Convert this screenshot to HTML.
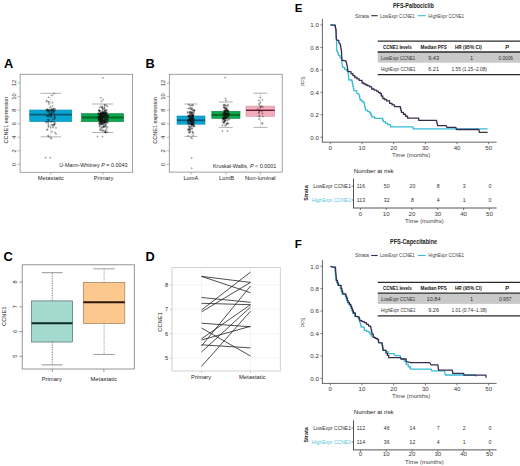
<!DOCTYPE html>
<html><head><meta charset="utf-8"><style>
html,body{margin:0;padding:0;background:#fff;}
svg{display:block;}
text{font-family:"Liberation Sans", sans-serif;}
</style></head><body>
<svg width="520" height="466" viewBox="0 0 520 466">
<rect x="0" y="0" width="520" height="466" fill="#fff"/>
<text x="3.90" y="67.80" font-size="12.8" fill="#000" text-anchor="start" font-weight="bold" font-style="normal" >A</text>
<text x="145.60" y="67.60" font-size="12.8" fill="#000" text-anchor="start" font-weight="bold" font-style="normal" >B</text>
<text x="3.40" y="260.70" font-size="12.8" fill="#000" text-anchor="start" font-weight="bold" font-style="normal" >C</text>
<text x="145.60" y="260.90" font-size="12.8" fill="#000" text-anchor="start" font-weight="bold" font-style="normal" >D</text>
<text x="294.80" y="11.70" font-size="11.6" fill="#000" text-anchor="start" font-weight="bold" font-style="normal" >E</text>
<text x="294.80" y="247.50" font-size="11.6" fill="#000" text-anchor="start" font-weight="bold" font-style="normal" >F</text>
<rect x="20.10" y="74.30" width="112.50" height="98.00" fill="none" stroke="#8a8a8a" stroke-width="0.8" />
<line x1="17.50" y1="164.40" x2="20.10" y2="164.40" stroke="#8a8a8a" stroke-width="0.6" />
<text x="16.00" y="164.40" font-size="5.6" fill="#262626" text-anchor="middle" font-weight="normal" font-style="normal" transform="rotate(-90 16.00 164.40)" >0</text>
<line x1="17.50" y1="150.84" x2="20.10" y2="150.84" stroke="#8a8a8a" stroke-width="0.6" />
<text x="16.00" y="150.84" font-size="5.6" fill="#262626" text-anchor="middle" font-weight="normal" font-style="normal" transform="rotate(-90 16.00 150.84)" >2</text>
<line x1="17.50" y1="137.28" x2="20.10" y2="137.28" stroke="#8a8a8a" stroke-width="0.6" />
<text x="16.00" y="137.28" font-size="5.6" fill="#262626" text-anchor="middle" font-weight="normal" font-style="normal" transform="rotate(-90 16.00 137.28)" >4</text>
<line x1="17.50" y1="123.72" x2="20.10" y2="123.72" stroke="#8a8a8a" stroke-width="0.6" />
<text x="16.00" y="123.72" font-size="5.6" fill="#262626" text-anchor="middle" font-weight="normal" font-style="normal" transform="rotate(-90 16.00 123.72)" >6</text>
<line x1="17.50" y1="110.16" x2="20.10" y2="110.16" stroke="#8a8a8a" stroke-width="0.6" />
<text x="16.00" y="110.16" font-size="5.6" fill="#262626" text-anchor="middle" font-weight="normal" font-style="normal" transform="rotate(-90 16.00 110.16)" >8</text>
<line x1="17.50" y1="96.60" x2="20.10" y2="96.60" stroke="#8a8a8a" stroke-width="0.6" />
<text x="16.00" y="96.60" font-size="5.6" fill="#262626" text-anchor="middle" font-weight="normal" font-style="normal" transform="rotate(-90 16.00 96.60)" >10</text>
<line x1="17.50" y1="83.04" x2="20.10" y2="83.04" stroke="#8a8a8a" stroke-width="0.6" />
<text x="16.00" y="83.04" font-size="5.6" fill="#262626" text-anchor="middle" font-weight="normal" font-style="normal" transform="rotate(-90 16.00 83.04)" >12</text>
<line x1="50.70" y1="172.30" x2="50.70" y2="174.70" stroke="#8a8a8a" stroke-width="0.6" />
<line x1="103.00" y1="172.30" x2="103.00" y2="174.70" stroke="#8a8a8a" stroke-width="0.6" />
<text x="7.50" y="120.00" font-size="5.5" fill="#262626" text-anchor="middle" font-weight="normal" font-style="normal" transform="rotate(-90 7.50 120.00)" >CCNE1 expression</text>
<line x1="50.75" y1="110.00" x2="50.75" y2="93.30" stroke="#9a9a9a" stroke-width="0.6" stroke-dasharray="1 1"/>
<line x1="50.75" y1="121.60" x2="50.75" y2="136.80" stroke="#9a9a9a" stroke-width="0.6" stroke-dasharray="1 1"/>
<line x1="40.50" y1="93.30" x2="61.00" y2="93.30" stroke="#a0a0a0" stroke-width="0.8" />
<line x1="40.50" y1="136.80" x2="61.00" y2="136.80" stroke="#a0a0a0" stroke-width="0.8" />
<rect x="29.70" y="110.00" width="42.10" height="11.60" fill="#0aa6d3" stroke="#0b88b0" stroke-width="0.6" />
<line x1="29.70" y1="114.70" x2="71.80" y2="114.70" stroke="#075a72" stroke-width="1.8" />
<line x1="102.65" y1="113.60" x2="102.65" y2="104.00" stroke="#9a9a9a" stroke-width="0.6" stroke-dasharray="1 1"/>
<line x1="102.65" y1="121.70" x2="102.65" y2="132.50" stroke="#9a9a9a" stroke-width="0.6" stroke-dasharray="1 1"/>
<line x1="92.00" y1="104.00" x2="113.30" y2="104.00" stroke="#a0a0a0" stroke-width="0.8" />
<line x1="92.00" y1="132.50" x2="113.30" y2="132.50" stroke="#a0a0a0" stroke-width="0.8" />
<rect x="81.60" y="113.60" width="42.00" height="8.10" fill="#10a652" stroke="#0b8a3e" stroke-width="0.6" />
<line x1="81.60" y1="117.50" x2="123.60" y2="117.50" stroke="#046b22" stroke-width="1.8" />
<circle cx="54.44" cy="117.78" r="0.6" fill="none" stroke="#111" stroke-width="0.4" opacity="0.78"/>
<circle cx="47.86" cy="111.94" r="0.6" fill="none" stroke="#111" stroke-width="0.4" opacity="0.78"/>
<circle cx="47.42" cy="110.97" r="0.6" fill="none" stroke="#111" stroke-width="0.4" opacity="0.78"/>
<circle cx="52.04" cy="131.60" r="0.6" fill="none" stroke="#111" stroke-width="0.4" opacity="0.78"/>
<circle cx="52.16" cy="95.27" r="0.6" fill="none" stroke="#111" stroke-width="0.4" opacity="0.78"/>
<circle cx="50.90" cy="121.70" r="0.6" fill="none" stroke="#111" stroke-width="0.4" opacity="0.78"/>
<circle cx="46.57" cy="122.58" r="0.6" fill="none" stroke="#111" stroke-width="0.4" opacity="0.78"/>
<circle cx="50.88" cy="115.80" r="0.6" fill="none" stroke="#111" stroke-width="0.4" opacity="0.78"/>
<circle cx="50.36" cy="117.06" r="0.6" fill="none" stroke="#111" stroke-width="0.4" opacity="0.78"/>
<circle cx="54.07" cy="93.55" r="0.6" fill="none" stroke="#111" stroke-width="0.4" opacity="0.78"/>
<circle cx="49.22" cy="120.09" r="0.6" fill="none" stroke="#111" stroke-width="0.4" opacity="0.78"/>
<circle cx="53.63" cy="109.32" r="0.6" fill="none" stroke="#111" stroke-width="0.4" opacity="0.78"/>
<circle cx="46.87" cy="100.65" r="0.6" fill="none" stroke="#111" stroke-width="0.4" opacity="0.78"/>
<circle cx="54.78" cy="108.81" r="0.6" fill="none" stroke="#111" stroke-width="0.4" opacity="0.78"/>
<circle cx="52.91" cy="127.68" r="0.6" fill="none" stroke="#111" stroke-width="0.4" opacity="0.78"/>
<circle cx="55.39" cy="123.37" r="0.6" fill="none" stroke="#111" stroke-width="0.4" opacity="0.78"/>
<circle cx="47.91" cy="122.62" r="0.6" fill="none" stroke="#111" stroke-width="0.4" opacity="0.78"/>
<circle cx="51.22" cy="109.96" r="0.6" fill="none" stroke="#111" stroke-width="0.4" opacity="0.78"/>
<circle cx="47.16" cy="129.79" r="0.6" fill="none" stroke="#111" stroke-width="0.4" opacity="0.78"/>
<circle cx="48.42" cy="124.37" r="0.6" fill="none" stroke="#111" stroke-width="0.4" opacity="0.78"/>
<circle cx="48.61" cy="102.24" r="0.6" fill="none" stroke="#111" stroke-width="0.4" opacity="0.78"/>
<circle cx="54.10" cy="124.05" r="0.6" fill="none" stroke="#111" stroke-width="0.4" opacity="0.78"/>
<circle cx="48.44" cy="136.48" r="0.6" fill="none" stroke="#111" stroke-width="0.4" opacity="0.78"/>
<circle cx="49.26" cy="109.66" r="0.6" fill="none" stroke="#111" stroke-width="0.4" opacity="0.78"/>
<circle cx="48.28" cy="126.83" r="0.6" fill="none" stroke="#111" stroke-width="0.4" opacity="0.78"/>
<circle cx="54.78" cy="118.53" r="0.6" fill="none" stroke="#111" stroke-width="0.4" opacity="0.78"/>
<circle cx="48.35" cy="110.63" r="0.6" fill="none" stroke="#111" stroke-width="0.4" opacity="0.78"/>
<circle cx="48.80" cy="101.74" r="0.6" fill="none" stroke="#111" stroke-width="0.4" opacity="0.78"/>
<circle cx="47.37" cy="110.28" r="0.6" fill="none" stroke="#111" stroke-width="0.4" opacity="0.78"/>
<circle cx="50.14" cy="107.15" r="0.6" fill="none" stroke="#111" stroke-width="0.4" opacity="0.78"/>
<circle cx="48.12" cy="135.69" r="0.6" fill="none" stroke="#111" stroke-width="0.4" opacity="0.78"/>
<circle cx="51.48" cy="115.93" r="0.6" fill="none" stroke="#111" stroke-width="0.4" opacity="0.78"/>
<circle cx="47.36" cy="129.54" r="0.6" fill="none" stroke="#111" stroke-width="0.4" opacity="0.78"/>
<circle cx="51.61" cy="110.69" r="0.6" fill="none" stroke="#111" stroke-width="0.4" opacity="0.78"/>
<circle cx="46.87" cy="109.94" r="0.6" fill="none" stroke="#111" stroke-width="0.4" opacity="0.78"/>
<circle cx="47.99" cy="121.28" r="0.6" fill="none" stroke="#111" stroke-width="0.4" opacity="0.78"/>
<circle cx="49.22" cy="114.08" r="0.6" fill="none" stroke="#111" stroke-width="0.4" opacity="0.78"/>
<circle cx="52.49" cy="106.16" r="0.6" fill="none" stroke="#111" stroke-width="0.4" opacity="0.78"/>
<circle cx="45.49" cy="121.72" r="0.6" fill="none" stroke="#111" stroke-width="0.4" opacity="0.78"/>
<circle cx="46.12" cy="110.17" r="0.6" fill="none" stroke="#111" stroke-width="0.4" opacity="0.78"/>
<circle cx="48.67" cy="116.59" r="0.6" fill="none" stroke="#111" stroke-width="0.4" opacity="0.78"/>
<circle cx="53.25" cy="126.20" r="0.6" fill="none" stroke="#111" stroke-width="0.4" opacity="0.78"/>
<circle cx="53.87" cy="111.39" r="0.6" fill="none" stroke="#111" stroke-width="0.4" opacity="0.78"/>
<circle cx="54.96" cy="116.90" r="0.6" fill="none" stroke="#111" stroke-width="0.4" opacity="0.78"/>
<circle cx="54.08" cy="116.17" r="0.6" fill="none" stroke="#111" stroke-width="0.4" opacity="0.78"/>
<circle cx="51.48" cy="112.90" r="0.6" fill="none" stroke="#111" stroke-width="0.4" opacity="0.78"/>
<circle cx="55.96" cy="127.87" r="0.6" fill="none" stroke="#111" stroke-width="0.4" opacity="0.78"/>
<circle cx="52.89" cy="112.87" r="0.6" fill="none" stroke="#111" stroke-width="0.4" opacity="0.78"/>
<circle cx="46.50" cy="115.83" r="0.6" fill="none" stroke="#111" stroke-width="0.4" opacity="0.78"/>
<circle cx="50.55" cy="127.16" r="0.6" fill="none" stroke="#111" stroke-width="0.4" opacity="0.78"/>
<circle cx="51.94" cy="112.36" r="0.6" fill="none" stroke="#111" stroke-width="0.4" opacity="0.78"/>
<circle cx="48.76" cy="121.62" r="0.6" fill="none" stroke="#111" stroke-width="0.4" opacity="0.78"/>
<circle cx="54.63" cy="122.13" r="0.6" fill="none" stroke="#111" stroke-width="0.4" opacity="0.78"/>
<circle cx="49.02" cy="115.46" r="0.6" fill="none" stroke="#111" stroke-width="0.4" opacity="0.78"/>
<circle cx="54.01" cy="124.50" r="0.6" fill="none" stroke="#111" stroke-width="0.4" opacity="0.78"/>
<circle cx="51.38" cy="109.41" r="0.6" fill="none" stroke="#111" stroke-width="0.4" opacity="0.78"/>
<circle cx="54.25" cy="125.42" r="0.6" fill="none" stroke="#111" stroke-width="0.4" opacity="0.78"/>
<circle cx="49.03" cy="110.23" r="0.6" fill="none" stroke="#111" stroke-width="0.4" opacity="0.78"/>
<circle cx="48.25" cy="119.77" r="0.6" fill="none" stroke="#111" stroke-width="0.4" opacity="0.78"/>
<circle cx="48.77" cy="112.38" r="0.6" fill="none" stroke="#111" stroke-width="0.4" opacity="0.78"/>
<circle cx="47.78" cy="108.96" r="0.6" fill="none" stroke="#111" stroke-width="0.4" opacity="0.78"/>
<circle cx="52.64" cy="110.00" r="0.6" fill="none" stroke="#111" stroke-width="0.4" opacity="0.78"/>
<circle cx="47.18" cy="116.16" r="0.6" fill="none" stroke="#111" stroke-width="0.4" opacity="0.78"/>
<circle cx="53.27" cy="121.53" r="0.6" fill="none" stroke="#111" stroke-width="0.4" opacity="0.78"/>
<circle cx="51.83" cy="121.73" r="0.6" fill="none" stroke="#111" stroke-width="0.4" opacity="0.78"/>
<circle cx="54.09" cy="111.62" r="0.6" fill="none" stroke="#111" stroke-width="0.4" opacity="0.78"/>
<circle cx="50.51" cy="113.76" r="0.6" fill="none" stroke="#111" stroke-width="0.4" opacity="0.78"/>
<circle cx="52.31" cy="125.07" r="0.6" fill="none" stroke="#111" stroke-width="0.4" opacity="0.78"/>
<circle cx="52.49" cy="119.28" r="0.6" fill="none" stroke="#111" stroke-width="0.4" opacity="0.78"/>
<circle cx="49.61" cy="111.15" r="0.6" fill="none" stroke="#111" stroke-width="0.4" opacity="0.78"/>
<circle cx="55.01" cy="110.00" r="0.6" fill="none" stroke="#111" stroke-width="0.4" opacity="0.78"/>
<circle cx="52.06" cy="124.81" r="0.6" fill="none" stroke="#111" stroke-width="0.4" opacity="0.78"/>
<circle cx="54.60" cy="117.72" r="0.6" fill="none" stroke="#111" stroke-width="0.4" opacity="0.78"/>
<circle cx="51.86" cy="108.87" r="0.6" fill="none" stroke="#111" stroke-width="0.4" opacity="0.78"/>
<circle cx="52.11" cy="110.85" r="0.6" fill="none" stroke="#111" stroke-width="0.4" opacity="0.78"/>
<circle cx="56.03" cy="133.93" r="0.6" fill="none" stroke="#111" stroke-width="0.4" opacity="0.78"/>
<circle cx="48.76" cy="110.98" r="0.6" fill="none" stroke="#111" stroke-width="0.4" opacity="0.78"/>
<circle cx="47.07" cy="109.58" r="0.6" fill="none" stroke="#111" stroke-width="0.4" opacity="0.78"/>
<circle cx="50.61" cy="111.09" r="0.6" fill="none" stroke="#111" stroke-width="0.4" opacity="0.78"/>
<circle cx="52.95" cy="110.00" r="0.6" fill="none" stroke="#111" stroke-width="0.4" opacity="0.78"/>
<circle cx="48.04" cy="116.18" r="0.6" fill="none" stroke="#111" stroke-width="0.4" opacity="0.78"/>
<circle cx="54.03" cy="111.30" r="0.6" fill="none" stroke="#111" stroke-width="0.4" opacity="0.78"/>
<circle cx="53.89" cy="108.60" r="0.6" fill="none" stroke="#111" stroke-width="0.4" opacity="0.78"/>
<circle cx="48.60" cy="125.89" r="0.6" fill="none" stroke="#111" stroke-width="0.4" opacity="0.78"/>
<circle cx="53.87" cy="112.24" r="0.6" fill="none" stroke="#111" stroke-width="0.4" opacity="0.78"/>
<circle cx="54.41" cy="119.03" r="0.6" fill="none" stroke="#111" stroke-width="0.4" opacity="0.78"/>
<circle cx="54.95" cy="132.63" r="0.6" fill="none" stroke="#111" stroke-width="0.4" opacity="0.78"/>
<circle cx="51.02" cy="113.76" r="0.6" fill="none" stroke="#111" stroke-width="0.4" opacity="0.78"/>
<circle cx="54.94" cy="114.57" r="0.6" fill="none" stroke="#111" stroke-width="0.4" opacity="0.78"/>
<circle cx="51.26" cy="116.09" r="0.6" fill="none" stroke="#111" stroke-width="0.4" opacity="0.78"/>
<circle cx="51.03" cy="114.39" r="0.6" fill="none" stroke="#111" stroke-width="0.4" opacity="0.78"/>
<circle cx="48.66" cy="97.36" r="0.6" fill="none" stroke="#111" stroke-width="0.4" opacity="0.78"/>
<circle cx="54.10" cy="124.54" r="0.6" fill="none" stroke="#111" stroke-width="0.4" opacity="0.78"/>
<circle cx="47.77" cy="119.48" r="0.6" fill="none" stroke="#111" stroke-width="0.4" opacity="0.78"/>
<circle cx="52.61" cy="109.99" r="0.6" fill="none" stroke="#111" stroke-width="0.4" opacity="0.78"/>
<circle cx="45.70" cy="157.80" r="0.6" fill="none" stroke="#111" stroke-width="0.4" opacity="0.78"/>
<circle cx="50.20" cy="157.80" r="0.6" fill="none" stroke="#111" stroke-width="0.4" opacity="0.78"/>
<circle cx="50.50" cy="137.80" r="0.6" fill="none" stroke="#111" stroke-width="0.4" opacity="0.78"/>
<circle cx="51.50" cy="138.60" r="0.6" fill="none" stroke="#111" stroke-width="0.4" opacity="0.78"/>
<circle cx="46.50" cy="101.50" r="0.6" fill="none" stroke="#111" stroke-width="0.4" opacity="0.78"/>
<circle cx="52.50" cy="102.50" r="0.6" fill="none" stroke="#111" stroke-width="0.4" opacity="0.78"/>
<circle cx="49.00" cy="104.00" r="0.6" fill="none" stroke="#111" stroke-width="0.4" opacity="0.78"/>
<circle cx="104.53" cy="122.26" r="0.6" fill="none" stroke="#111" stroke-width="0.4" opacity="0.78"/>
<circle cx="99.05" cy="119.10" r="0.6" fill="none" stroke="#111" stroke-width="0.4" opacity="0.78"/>
<circle cx="101.10" cy="124.51" r="0.6" fill="none" stroke="#111" stroke-width="0.4" opacity="0.78"/>
<circle cx="101.93" cy="115.71" r="0.6" fill="none" stroke="#111" stroke-width="0.4" opacity="0.78"/>
<circle cx="100.18" cy="116.85" r="0.6" fill="none" stroke="#111" stroke-width="0.4" opacity="0.78"/>
<circle cx="106.32" cy="115.33" r="0.6" fill="none" stroke="#111" stroke-width="0.4" opacity="0.78"/>
<circle cx="105.49" cy="113.15" r="0.6" fill="none" stroke="#111" stroke-width="0.4" opacity="0.78"/>
<circle cx="100.99" cy="112.87" r="0.6" fill="none" stroke="#111" stroke-width="0.4" opacity="0.78"/>
<circle cx="105.84" cy="132.46" r="0.6" fill="none" stroke="#111" stroke-width="0.4" opacity="0.78"/>
<circle cx="101.28" cy="127.40" r="0.6" fill="none" stroke="#111" stroke-width="0.4" opacity="0.78"/>
<circle cx="105.11" cy="112.31" r="0.6" fill="none" stroke="#111" stroke-width="0.4" opacity="0.78"/>
<circle cx="99.33" cy="118.82" r="0.6" fill="none" stroke="#111" stroke-width="0.4" opacity="0.78"/>
<circle cx="106.39" cy="113.76" r="0.6" fill="none" stroke="#111" stroke-width="0.4" opacity="0.78"/>
<circle cx="103.03" cy="114.39" r="0.6" fill="none" stroke="#111" stroke-width="0.4" opacity="0.78"/>
<circle cx="100.29" cy="121.75" r="0.6" fill="none" stroke="#111" stroke-width="0.4" opacity="0.78"/>
<circle cx="103.51" cy="115.39" r="0.6" fill="none" stroke="#111" stroke-width="0.4" opacity="0.78"/>
<circle cx="106.80" cy="122.15" r="0.6" fill="none" stroke="#111" stroke-width="0.4" opacity="0.78"/>
<circle cx="98.19" cy="113.37" r="0.6" fill="none" stroke="#111" stroke-width="0.4" opacity="0.78"/>
<circle cx="101.47" cy="118.49" r="0.6" fill="none" stroke="#111" stroke-width="0.4" opacity="0.78"/>
<circle cx="103.68" cy="115.74" r="0.6" fill="none" stroke="#111" stroke-width="0.4" opacity="0.78"/>
<circle cx="100.21" cy="114.04" r="0.6" fill="none" stroke="#111" stroke-width="0.4" opacity="0.78"/>
<circle cx="100.73" cy="115.84" r="0.6" fill="none" stroke="#111" stroke-width="0.4" opacity="0.78"/>
<circle cx="107.05" cy="117.44" r="0.6" fill="none" stroke="#111" stroke-width="0.4" opacity="0.78"/>
<circle cx="104.10" cy="113.97" r="0.6" fill="none" stroke="#111" stroke-width="0.4" opacity="0.78"/>
<circle cx="107.98" cy="115.43" r="0.6" fill="none" stroke="#111" stroke-width="0.4" opacity="0.78"/>
<circle cx="105.49" cy="117.87" r="0.6" fill="none" stroke="#111" stroke-width="0.4" opacity="0.78"/>
<circle cx="107.23" cy="112.41" r="0.6" fill="none" stroke="#111" stroke-width="0.4" opacity="0.78"/>
<circle cx="105.26" cy="114.35" r="0.6" fill="none" stroke="#111" stroke-width="0.4" opacity="0.78"/>
<circle cx="101.60" cy="117.21" r="0.6" fill="none" stroke="#111" stroke-width="0.4" opacity="0.78"/>
<circle cx="104.32" cy="123.07" r="0.6" fill="none" stroke="#111" stroke-width="0.4" opacity="0.78"/>
<circle cx="104.37" cy="131.34" r="0.6" fill="none" stroke="#111" stroke-width="0.4" opacity="0.78"/>
<circle cx="103.28" cy="115.16" r="0.6" fill="none" stroke="#111" stroke-width="0.4" opacity="0.78"/>
<circle cx="105.04" cy="110.29" r="0.6" fill="none" stroke="#111" stroke-width="0.4" opacity="0.78"/>
<circle cx="104.16" cy="113.40" r="0.6" fill="none" stroke="#111" stroke-width="0.4" opacity="0.78"/>
<circle cx="99.59" cy="120.01" r="0.6" fill="none" stroke="#111" stroke-width="0.4" opacity="0.78"/>
<circle cx="100.32" cy="121.29" r="0.6" fill="none" stroke="#111" stroke-width="0.4" opacity="0.78"/>
<circle cx="107.33" cy="115.42" r="0.6" fill="none" stroke="#111" stroke-width="0.4" opacity="0.78"/>
<circle cx="105.19" cy="110.34" r="0.6" fill="none" stroke="#111" stroke-width="0.4" opacity="0.78"/>
<circle cx="98.05" cy="114.39" r="0.6" fill="none" stroke="#111" stroke-width="0.4" opacity="0.78"/>
<circle cx="100.04" cy="124.10" r="0.6" fill="none" stroke="#111" stroke-width="0.4" opacity="0.78"/>
<circle cx="106.83" cy="117.26" r="0.6" fill="none" stroke="#111" stroke-width="0.4" opacity="0.78"/>
<circle cx="101.92" cy="115.05" r="0.6" fill="none" stroke="#111" stroke-width="0.4" opacity="0.78"/>
<circle cx="100.85" cy="115.20" r="0.6" fill="none" stroke="#111" stroke-width="0.4" opacity="0.78"/>
<circle cx="101.24" cy="121.64" r="0.6" fill="none" stroke="#111" stroke-width="0.4" opacity="0.78"/>
<circle cx="101.82" cy="127.85" r="0.6" fill="none" stroke="#111" stroke-width="0.4" opacity="0.78"/>
<circle cx="108.35" cy="117.29" r="0.6" fill="none" stroke="#111" stroke-width="0.4" opacity="0.78"/>
<circle cx="102.38" cy="130.56" r="0.6" fill="none" stroke="#111" stroke-width="0.4" opacity="0.78"/>
<circle cx="103.26" cy="113.12" r="0.6" fill="none" stroke="#111" stroke-width="0.4" opacity="0.78"/>
<circle cx="107.97" cy="115.58" r="0.6" fill="none" stroke="#111" stroke-width="0.4" opacity="0.78"/>
<circle cx="104.09" cy="117.03" r="0.6" fill="none" stroke="#111" stroke-width="0.4" opacity="0.78"/>
<circle cx="103.20" cy="121.73" r="0.6" fill="none" stroke="#111" stroke-width="0.4" opacity="0.78"/>
<circle cx="102.65" cy="118.89" r="0.6" fill="none" stroke="#111" stroke-width="0.4" opacity="0.78"/>
<circle cx="105.53" cy="115.78" r="0.6" fill="none" stroke="#111" stroke-width="0.4" opacity="0.78"/>
<circle cx="104.82" cy="105.07" r="0.6" fill="none" stroke="#111" stroke-width="0.4" opacity="0.78"/>
<circle cx="105.71" cy="130.31" r="0.6" fill="none" stroke="#111" stroke-width="0.4" opacity="0.78"/>
<circle cx="104.71" cy="120.56" r="0.6" fill="none" stroke="#111" stroke-width="0.4" opacity="0.78"/>
<circle cx="104.92" cy="114.90" r="0.6" fill="none" stroke="#111" stroke-width="0.4" opacity="0.78"/>
<circle cx="107.43" cy="132.07" r="0.6" fill="none" stroke="#111" stroke-width="0.4" opacity="0.78"/>
<circle cx="101.02" cy="121.74" r="0.6" fill="none" stroke="#111" stroke-width="0.4" opacity="0.78"/>
<circle cx="103.29" cy="117.08" r="0.6" fill="none" stroke="#111" stroke-width="0.4" opacity="0.78"/>
<circle cx="103.48" cy="126.64" r="0.6" fill="none" stroke="#111" stroke-width="0.4" opacity="0.78"/>
<circle cx="100.61" cy="119.69" r="0.6" fill="none" stroke="#111" stroke-width="0.4" opacity="0.78"/>
<circle cx="99.91" cy="114.06" r="0.6" fill="none" stroke="#111" stroke-width="0.4" opacity="0.78"/>
<circle cx="105.06" cy="110.51" r="0.6" fill="none" stroke="#111" stroke-width="0.4" opacity="0.78"/>
<circle cx="105.59" cy="120.62" r="0.6" fill="none" stroke="#111" stroke-width="0.4" opacity="0.78"/>
<circle cx="101.40" cy="113.44" r="0.6" fill="none" stroke="#111" stroke-width="0.4" opacity="0.78"/>
<circle cx="102.39" cy="113.72" r="0.6" fill="none" stroke="#111" stroke-width="0.4" opacity="0.78"/>
<circle cx="100.01" cy="129.97" r="0.6" fill="none" stroke="#111" stroke-width="0.4" opacity="0.78"/>
<circle cx="104.49" cy="115.51" r="0.6" fill="none" stroke="#111" stroke-width="0.4" opacity="0.78"/>
<circle cx="100.22" cy="113.38" r="0.6" fill="none" stroke="#111" stroke-width="0.4" opacity="0.78"/>
<circle cx="105.21" cy="122.70" r="0.6" fill="none" stroke="#111" stroke-width="0.4" opacity="0.78"/>
<circle cx="101.58" cy="121.10" r="0.6" fill="none" stroke="#111" stroke-width="0.4" opacity="0.78"/>
<circle cx="104.94" cy="121.21" r="0.6" fill="none" stroke="#111" stroke-width="0.4" opacity="0.78"/>
<circle cx="106.59" cy="105.35" r="0.6" fill="none" stroke="#111" stroke-width="0.4" opacity="0.78"/>
<circle cx="101.45" cy="112.92" r="0.6" fill="none" stroke="#111" stroke-width="0.4" opacity="0.78"/>
<circle cx="100.90" cy="106.28" r="0.6" fill="none" stroke="#111" stroke-width="0.4" opacity="0.78"/>
<circle cx="102.12" cy="120.17" r="0.6" fill="none" stroke="#111" stroke-width="0.4" opacity="0.78"/>
<circle cx="105.72" cy="125.13" r="0.6" fill="none" stroke="#111" stroke-width="0.4" opacity="0.78"/>
<circle cx="99.73" cy="111.17" r="0.6" fill="none" stroke="#111" stroke-width="0.4" opacity="0.78"/>
<circle cx="98.69" cy="113.00" r="0.6" fill="none" stroke="#111" stroke-width="0.4" opacity="0.78"/>
<circle cx="107.50" cy="115.17" r="0.6" fill="none" stroke="#111" stroke-width="0.4" opacity="0.78"/>
<circle cx="103.48" cy="113.39" r="0.6" fill="none" stroke="#111" stroke-width="0.4" opacity="0.78"/>
<circle cx="105.55" cy="121.77" r="0.6" fill="none" stroke="#111" stroke-width="0.4" opacity="0.78"/>
<circle cx="99.42" cy="126.04" r="0.6" fill="none" stroke="#111" stroke-width="0.4" opacity="0.78"/>
<circle cx="100.16" cy="116.49" r="0.6" fill="none" stroke="#111" stroke-width="0.4" opacity="0.78"/>
<circle cx="102.13" cy="114.36" r="0.6" fill="none" stroke="#111" stroke-width="0.4" opacity="0.78"/>
<circle cx="102.94" cy="109.92" r="0.6" fill="none" stroke="#111" stroke-width="0.4" opacity="0.78"/>
<circle cx="106.55" cy="114.60" r="0.6" fill="none" stroke="#111" stroke-width="0.4" opacity="0.78"/>
<circle cx="106.65" cy="109.99" r="0.6" fill="none" stroke="#111" stroke-width="0.4" opacity="0.78"/>
<circle cx="107.39" cy="106.40" r="0.6" fill="none" stroke="#111" stroke-width="0.4" opacity="0.78"/>
<circle cx="105.60" cy="114.59" r="0.6" fill="none" stroke="#111" stroke-width="0.4" opacity="0.78"/>
<circle cx="105.69" cy="121.09" r="0.6" fill="none" stroke="#111" stroke-width="0.4" opacity="0.78"/>
<circle cx="100.45" cy="121.00" r="0.6" fill="none" stroke="#111" stroke-width="0.4" opacity="0.78"/>
<circle cx="99.43" cy="117.63" r="0.6" fill="none" stroke="#111" stroke-width="0.4" opacity="0.78"/>
<circle cx="105.08" cy="126.23" r="0.6" fill="none" stroke="#111" stroke-width="0.4" opacity="0.78"/>
<circle cx="103.91" cy="123.97" r="0.6" fill="none" stroke="#111" stroke-width="0.4" opacity="0.78"/>
<circle cx="100.57" cy="121.83" r="0.6" fill="none" stroke="#111" stroke-width="0.4" opacity="0.78"/>
<circle cx="103.73" cy="127.26" r="0.6" fill="none" stroke="#111" stroke-width="0.4" opacity="0.78"/>
<circle cx="99.69" cy="122.55" r="0.6" fill="none" stroke="#111" stroke-width="0.4" opacity="0.78"/>
<circle cx="105.81" cy="119.40" r="0.6" fill="none" stroke="#111" stroke-width="0.4" opacity="0.78"/>
<circle cx="106.42" cy="117.97" r="0.6" fill="none" stroke="#111" stroke-width="0.4" opacity="0.78"/>
<circle cx="102.87" cy="113.58" r="0.6" fill="none" stroke="#111" stroke-width="0.4" opacity="0.78"/>
<circle cx="105.55" cy="131.40" r="0.6" fill="none" stroke="#111" stroke-width="0.4" opacity="0.78"/>
<circle cx="100.48" cy="115.39" r="0.6" fill="none" stroke="#111" stroke-width="0.4" opacity="0.78"/>
<circle cx="98.68" cy="116.53" r="0.6" fill="none" stroke="#111" stroke-width="0.4" opacity="0.78"/>
<circle cx="105.01" cy="118.35" r="0.6" fill="none" stroke="#111" stroke-width="0.4" opacity="0.78"/>
<circle cx="101.60" cy="121.97" r="0.6" fill="none" stroke="#111" stroke-width="0.4" opacity="0.78"/>
<circle cx="104.53" cy="111.60" r="0.6" fill="none" stroke="#111" stroke-width="0.4" opacity="0.78"/>
<circle cx="99.45" cy="119.45" r="0.6" fill="none" stroke="#111" stroke-width="0.4" opacity="0.78"/>
<circle cx="106.60" cy="128.99" r="0.6" fill="none" stroke="#111" stroke-width="0.4" opacity="0.78"/>
<circle cx="104.55" cy="122.49" r="0.6" fill="none" stroke="#111" stroke-width="0.4" opacity="0.78"/>
<circle cx="107.26" cy="119.73" r="0.6" fill="none" stroke="#111" stroke-width="0.4" opacity="0.78"/>
<circle cx="105.48" cy="112.92" r="0.6" fill="none" stroke="#111" stroke-width="0.4" opacity="0.78"/>
<circle cx="105.50" cy="113.38" r="0.6" fill="none" stroke="#111" stroke-width="0.4" opacity="0.78"/>
<circle cx="99.42" cy="115.34" r="0.6" fill="none" stroke="#111" stroke-width="0.4" opacity="0.78"/>
<circle cx="99.57" cy="120.39" r="0.6" fill="none" stroke="#111" stroke-width="0.4" opacity="0.78"/>
<circle cx="101.63" cy="118.70" r="0.6" fill="none" stroke="#111" stroke-width="0.4" opacity="0.78"/>
<circle cx="102.58" cy="123.38" r="0.6" fill="none" stroke="#111" stroke-width="0.4" opacity="0.78"/>
<circle cx="98.90" cy="110.15" r="0.6" fill="none" stroke="#111" stroke-width="0.4" opacity="0.78"/>
<circle cx="103.56" cy="116.53" r="0.6" fill="none" stroke="#111" stroke-width="0.4" opacity="0.78"/>
<circle cx="105.29" cy="132.32" r="0.6" fill="none" stroke="#111" stroke-width="0.4" opacity="0.78"/>
<circle cx="101.87" cy="116.31" r="0.6" fill="none" stroke="#111" stroke-width="0.4" opacity="0.78"/>
<circle cx="101.95" cy="120.28" r="0.6" fill="none" stroke="#111" stroke-width="0.4" opacity="0.78"/>
<circle cx="104.90" cy="120.86" r="0.6" fill="none" stroke="#111" stroke-width="0.4" opacity="0.78"/>
<circle cx="104.84" cy="111.17" r="0.6" fill="none" stroke="#111" stroke-width="0.4" opacity="0.78"/>
<circle cx="100.43" cy="113.38" r="0.6" fill="none" stroke="#111" stroke-width="0.4" opacity="0.78"/>
<circle cx="100.27" cy="114.60" r="0.6" fill="none" stroke="#111" stroke-width="0.4" opacity="0.78"/>
<circle cx="99.83" cy="110.86" r="0.6" fill="none" stroke="#111" stroke-width="0.4" opacity="0.78"/>
<circle cx="102.34" cy="121.87" r="0.6" fill="none" stroke="#111" stroke-width="0.4" opacity="0.78"/>
<circle cx="103.11" cy="112.28" r="0.6" fill="none" stroke="#111" stroke-width="0.4" opacity="0.78"/>
<circle cx="102.06" cy="107.66" r="0.6" fill="none" stroke="#111" stroke-width="0.4" opacity="0.78"/>
<circle cx="102.02" cy="121.64" r="0.6" fill="none" stroke="#111" stroke-width="0.4" opacity="0.78"/>
<circle cx="104.51" cy="108.19" r="0.6" fill="none" stroke="#111" stroke-width="0.4" opacity="0.78"/>
<circle cx="101.48" cy="122.88" r="0.6" fill="none" stroke="#111" stroke-width="0.4" opacity="0.78"/>
<circle cx="103.10" cy="123.24" r="0.6" fill="none" stroke="#111" stroke-width="0.4" opacity="0.78"/>
<circle cx="99.53" cy="110.65" r="0.6" fill="none" stroke="#111" stroke-width="0.4" opacity="0.78"/>
<circle cx="101.68" cy="111.31" r="0.6" fill="none" stroke="#111" stroke-width="0.4" opacity="0.78"/>
<circle cx="107.40" cy="127.20" r="0.6" fill="none" stroke="#111" stroke-width="0.4" opacity="0.78"/>
<circle cx="99.68" cy="114.07" r="0.6" fill="none" stroke="#111" stroke-width="0.4" opacity="0.78"/>
<circle cx="99.74" cy="116.69" r="0.6" fill="none" stroke="#111" stroke-width="0.4" opacity="0.78"/>
<circle cx="101.14" cy="114.64" r="0.6" fill="none" stroke="#111" stroke-width="0.4" opacity="0.78"/>
<circle cx="98.83" cy="119.76" r="0.6" fill="none" stroke="#111" stroke-width="0.4" opacity="0.78"/>
<circle cx="103.40" cy="130.53" r="0.6" fill="none" stroke="#111" stroke-width="0.4" opacity="0.78"/>
<circle cx="107.57" cy="116.42" r="0.6" fill="none" stroke="#111" stroke-width="0.4" opacity="0.78"/>
<circle cx="99.07" cy="110.76" r="0.6" fill="none" stroke="#111" stroke-width="0.4" opacity="0.78"/>
<circle cx="100.59" cy="117.93" r="0.6" fill="none" stroke="#111" stroke-width="0.4" opacity="0.78"/>
<circle cx="103.34" cy="113.26" r="0.6" fill="none" stroke="#111" stroke-width="0.4" opacity="0.78"/>
<circle cx="108.32" cy="122.05" r="0.6" fill="none" stroke="#111" stroke-width="0.4" opacity="0.78"/>
<circle cx="104.72" cy="116.24" r="0.6" fill="none" stroke="#111" stroke-width="0.4" opacity="0.78"/>
<circle cx="105.06" cy="119.21" r="0.6" fill="none" stroke="#111" stroke-width="0.4" opacity="0.78"/>
<circle cx="99.98" cy="124.07" r="0.6" fill="none" stroke="#111" stroke-width="0.4" opacity="0.78"/>
<circle cx="103.16" cy="116.79" r="0.6" fill="none" stroke="#111" stroke-width="0.4" opacity="0.78"/>
<circle cx="103.98" cy="116.14" r="0.6" fill="none" stroke="#111" stroke-width="0.4" opacity="0.78"/>
<circle cx="107.32" cy="116.91" r="0.6" fill="none" stroke="#111" stroke-width="0.4" opacity="0.78"/>
<circle cx="104.21" cy="119.97" r="0.6" fill="none" stroke="#111" stroke-width="0.4" opacity="0.78"/>
<circle cx="102.84" cy="108.79" r="0.6" fill="none" stroke="#111" stroke-width="0.4" opacity="0.78"/>
<circle cx="102.21" cy="107.05" r="0.6" fill="none" stroke="#111" stroke-width="0.4" opacity="0.78"/>
<circle cx="103.24" cy="113.79" r="0.6" fill="none" stroke="#111" stroke-width="0.4" opacity="0.78"/>
<circle cx="101.75" cy="117.90" r="0.6" fill="none" stroke="#111" stroke-width="0.4" opacity="0.78"/>
<circle cx="105.18" cy="113.81" r="0.6" fill="none" stroke="#111" stroke-width="0.4" opacity="0.78"/>
<circle cx="103.66" cy="112.92" r="0.6" fill="none" stroke="#111" stroke-width="0.4" opacity="0.78"/>
<circle cx="103.02" cy="123.86" r="0.6" fill="none" stroke="#111" stroke-width="0.4" opacity="0.78"/>
<circle cx="103.20" cy="126.92" r="0.6" fill="none" stroke="#111" stroke-width="0.4" opacity="0.78"/>
<circle cx="101.14" cy="120.04" r="0.6" fill="none" stroke="#111" stroke-width="0.4" opacity="0.78"/>
<circle cx="104.76" cy="104.77" r="0.6" fill="none" stroke="#111" stroke-width="0.4" opacity="0.78"/>
<circle cx="100.20" cy="118.32" r="0.6" fill="none" stroke="#111" stroke-width="0.4" opacity="0.78"/>
<circle cx="98.88" cy="113.80" r="0.6" fill="none" stroke="#111" stroke-width="0.4" opacity="0.78"/>
<circle cx="106.03" cy="124.82" r="0.6" fill="none" stroke="#111" stroke-width="0.4" opacity="0.78"/>
<circle cx="101.77" cy="122.67" r="0.6" fill="none" stroke="#111" stroke-width="0.4" opacity="0.78"/>
<circle cx="102.15" cy="107.76" r="0.6" fill="none" stroke="#111" stroke-width="0.4" opacity="0.78"/>
<circle cx="97.96" cy="117.31" r="0.6" fill="none" stroke="#111" stroke-width="0.4" opacity="0.78"/>
<circle cx="107.82" cy="119.61" r="0.6" fill="none" stroke="#111" stroke-width="0.4" opacity="0.78"/>
<circle cx="100.78" cy="120.83" r="0.6" fill="none" stroke="#111" stroke-width="0.4" opacity="0.78"/>
<circle cx="105.81" cy="113.24" r="0.6" fill="none" stroke="#111" stroke-width="0.4" opacity="0.78"/>
<circle cx="107.25" cy="120.98" r="0.6" fill="none" stroke="#111" stroke-width="0.4" opacity="0.78"/>
<circle cx="99.71" cy="126.02" r="0.6" fill="none" stroke="#111" stroke-width="0.4" opacity="0.78"/>
<circle cx="104.83" cy="121.82" r="0.6" fill="none" stroke="#111" stroke-width="0.4" opacity="0.78"/>
<circle cx="104.56" cy="106.77" r="0.6" fill="none" stroke="#111" stroke-width="0.4" opacity="0.78"/>
<circle cx="102.61" cy="113.65" r="0.6" fill="none" stroke="#111" stroke-width="0.4" opacity="0.78"/>
<circle cx="104.60" cy="122.72" r="0.6" fill="none" stroke="#111" stroke-width="0.4" opacity="0.78"/>
<circle cx="104.69" cy="122.30" r="0.6" fill="none" stroke="#111" stroke-width="0.4" opacity="0.78"/>
<circle cx="106.60" cy="118.92" r="0.6" fill="none" stroke="#111" stroke-width="0.4" opacity="0.78"/>
<circle cx="107.14" cy="122.68" r="0.6" fill="none" stroke="#111" stroke-width="0.4" opacity="0.78"/>
<circle cx="98.44" cy="119.01" r="0.6" fill="none" stroke="#111" stroke-width="0.4" opacity="0.78"/>
<circle cx="103.21" cy="119.48" r="0.6" fill="none" stroke="#111" stroke-width="0.4" opacity="0.78"/>
<circle cx="100.43" cy="116.33" r="0.6" fill="none" stroke="#111" stroke-width="0.4" opacity="0.78"/>
<circle cx="105.00" cy="122.58" r="0.6" fill="none" stroke="#111" stroke-width="0.4" opacity="0.78"/>
<circle cx="99.63" cy="119.40" r="0.6" fill="none" stroke="#111" stroke-width="0.4" opacity="0.78"/>
<circle cx="102.61" cy="113.40" r="0.6" fill="none" stroke="#111" stroke-width="0.4" opacity="0.78"/>
<circle cx="103.00" cy="117.80" r="0.6" fill="none" stroke="#111" stroke-width="0.4" opacity="0.78"/>
<circle cx="101.64" cy="114.86" r="0.6" fill="none" stroke="#111" stroke-width="0.4" opacity="0.78"/>
<circle cx="103.06" cy="111.60" r="0.6" fill="none" stroke="#111" stroke-width="0.4" opacity="0.78"/>
<circle cx="106.39" cy="115.37" r="0.6" fill="none" stroke="#111" stroke-width="0.4" opacity="0.78"/>
<circle cx="103.84" cy="113.30" r="0.6" fill="none" stroke="#111" stroke-width="0.4" opacity="0.78"/>
<circle cx="105.94" cy="118.45" r="0.6" fill="none" stroke="#111" stroke-width="0.4" opacity="0.78"/>
<circle cx="100.40" cy="124.28" r="0.6" fill="none" stroke="#111" stroke-width="0.4" opacity="0.78"/>
<circle cx="103.96" cy="121.55" r="0.6" fill="none" stroke="#111" stroke-width="0.4" opacity="0.78"/>
<circle cx="100.63" cy="113.92" r="0.6" fill="none" stroke="#111" stroke-width="0.4" opacity="0.78"/>
<circle cx="102.43" cy="124.36" r="0.6" fill="none" stroke="#111" stroke-width="0.4" opacity="0.78"/>
<circle cx="98.39" cy="118.35" r="0.6" fill="none" stroke="#111" stroke-width="0.4" opacity="0.78"/>
<circle cx="105.27" cy="115.27" r="0.6" fill="none" stroke="#111" stroke-width="0.4" opacity="0.78"/>
<circle cx="99.28" cy="122.74" r="0.6" fill="none" stroke="#111" stroke-width="0.4" opacity="0.78"/>
<circle cx="100.80" cy="115.35" r="0.6" fill="none" stroke="#111" stroke-width="0.4" opacity="0.78"/>
<circle cx="100.42" cy="128.97" r="0.6" fill="none" stroke="#111" stroke-width="0.4" opacity="0.78"/>
<circle cx="106.39" cy="126.85" r="0.6" fill="none" stroke="#111" stroke-width="0.4" opacity="0.78"/>
<circle cx="101.96" cy="123.52" r="0.6" fill="none" stroke="#111" stroke-width="0.4" opacity="0.78"/>
<circle cx="102.89" cy="113.40" r="0.6" fill="none" stroke="#111" stroke-width="0.4" opacity="0.78"/>
<circle cx="102.55" cy="113.33" r="0.6" fill="none" stroke="#111" stroke-width="0.4" opacity="0.78"/>
<circle cx="105.87" cy="122.33" r="0.6" fill="none" stroke="#111" stroke-width="0.4" opacity="0.78"/>
<circle cx="102.47" cy="120.45" r="0.6" fill="none" stroke="#111" stroke-width="0.4" opacity="0.78"/>
<circle cx="105.64" cy="132.42" r="0.6" fill="none" stroke="#111" stroke-width="0.4" opacity="0.78"/>
<circle cx="103.40" cy="122.39" r="0.6" fill="none" stroke="#111" stroke-width="0.4" opacity="0.78"/>
<circle cx="101.88" cy="117.78" r="0.6" fill="none" stroke="#111" stroke-width="0.4" opacity="0.78"/>
<circle cx="99.08" cy="110.66" r="0.6" fill="none" stroke="#111" stroke-width="0.4" opacity="0.78"/>
<circle cx="101.46" cy="117.26" r="0.6" fill="none" stroke="#111" stroke-width="0.4" opacity="0.78"/>
<circle cx="106.40" cy="110.88" r="0.6" fill="none" stroke="#111" stroke-width="0.4" opacity="0.78"/>
<circle cx="101.79" cy="118.16" r="0.6" fill="none" stroke="#111" stroke-width="0.4" opacity="0.78"/>
<circle cx="100.09" cy="123.00" r="0.6" fill="none" stroke="#111" stroke-width="0.4" opacity="0.78"/>
<circle cx="100.48" cy="122.15" r="0.6" fill="none" stroke="#111" stroke-width="0.4" opacity="0.78"/>
<circle cx="107.82" cy="119.82" r="0.6" fill="none" stroke="#111" stroke-width="0.4" opacity="0.78"/>
<circle cx="102.18" cy="113.22" r="0.6" fill="none" stroke="#111" stroke-width="0.4" opacity="0.78"/>
<circle cx="101.47" cy="116.01" r="0.6" fill="none" stroke="#111" stroke-width="0.4" opacity="0.78"/>
<circle cx="101.84" cy="122.44" r="0.6" fill="none" stroke="#111" stroke-width="0.4" opacity="0.78"/>
<circle cx="101.97" cy="116.40" r="0.6" fill="none" stroke="#111" stroke-width="0.4" opacity="0.78"/>
<circle cx="105.65" cy="112.67" r="0.6" fill="none" stroke="#111" stroke-width="0.4" opacity="0.78"/>
<circle cx="101.50" cy="113.40" r="0.6" fill="none" stroke="#111" stroke-width="0.4" opacity="0.78"/>
<circle cx="101.22" cy="130.11" r="0.6" fill="none" stroke="#111" stroke-width="0.4" opacity="0.78"/>
<circle cx="102.17" cy="117.27" r="0.6" fill="none" stroke="#111" stroke-width="0.4" opacity="0.78"/>
<circle cx="103.65" cy="121.95" r="0.6" fill="none" stroke="#111" stroke-width="0.4" opacity="0.78"/>
<circle cx="103.32" cy="119.92" r="0.6" fill="none" stroke="#111" stroke-width="0.4" opacity="0.78"/>
<circle cx="105.19" cy="116.43" r="0.6" fill="none" stroke="#111" stroke-width="0.4" opacity="0.78"/>
<circle cx="100.82" cy="122.15" r="0.6" fill="none" stroke="#111" stroke-width="0.4" opacity="0.78"/>
<circle cx="105.83" cy="120.08" r="0.6" fill="none" stroke="#111" stroke-width="0.4" opacity="0.78"/>
<circle cx="101.04" cy="120.25" r="0.6" fill="none" stroke="#111" stroke-width="0.4" opacity="0.78"/>
<circle cx="103.68" cy="125.99" r="0.6" fill="none" stroke="#111" stroke-width="0.4" opacity="0.78"/>
<circle cx="104.85" cy="112.94" r="0.6" fill="none" stroke="#111" stroke-width="0.4" opacity="0.78"/>
<circle cx="104.83" cy="126.83" r="0.6" fill="none" stroke="#111" stroke-width="0.4" opacity="0.78"/>
<circle cx="103.94" cy="113.15" r="0.6" fill="none" stroke="#111" stroke-width="0.4" opacity="0.78"/>
<circle cx="99.29" cy="120.05" r="0.6" fill="none" stroke="#111" stroke-width="0.4" opacity="0.78"/>
<circle cx="101.36" cy="119.61" r="0.6" fill="none" stroke="#111" stroke-width="0.4" opacity="0.78"/>
<circle cx="99.77" cy="119.70" r="0.6" fill="none" stroke="#111" stroke-width="0.4" opacity="0.78"/>
<circle cx="101.64" cy="121.79" r="0.6" fill="none" stroke="#111" stroke-width="0.4" opacity="0.78"/>
<circle cx="104.85" cy="125.37" r="0.6" fill="none" stroke="#111" stroke-width="0.4" opacity="0.78"/>
<circle cx="102.09" cy="117.41" r="0.6" fill="none" stroke="#111" stroke-width="0.4" opacity="0.78"/>
<circle cx="99.02" cy="123.47" r="0.6" fill="none" stroke="#111" stroke-width="0.4" opacity="0.78"/>
<circle cx="101.63" cy="115.58" r="0.6" fill="none" stroke="#111" stroke-width="0.4" opacity="0.78"/>
<circle cx="106.63" cy="123.00" r="0.6" fill="none" stroke="#111" stroke-width="0.4" opacity="0.78"/>
<circle cx="100.23" cy="118.89" r="0.6" fill="none" stroke="#111" stroke-width="0.4" opacity="0.78"/>
<circle cx="101.72" cy="113.59" r="0.6" fill="none" stroke="#111" stroke-width="0.4" opacity="0.78"/>
<circle cx="104.21" cy="108.49" r="0.6" fill="none" stroke="#111" stroke-width="0.4" opacity="0.78"/>
<circle cx="100.66" cy="119.95" r="0.6" fill="none" stroke="#111" stroke-width="0.4" opacity="0.78"/>
<circle cx="105.82" cy="112.55" r="0.6" fill="none" stroke="#111" stroke-width="0.4" opacity="0.78"/>
<circle cx="101.40" cy="124.48" r="0.6" fill="none" stroke="#111" stroke-width="0.4" opacity="0.78"/>
<circle cx="100.62" cy="113.32" r="0.6" fill="none" stroke="#111" stroke-width="0.4" opacity="0.78"/>
<circle cx="98.43" cy="116.54" r="0.6" fill="none" stroke="#111" stroke-width="0.4" opacity="0.78"/>
<circle cx="102.94" cy="120.69" r="0.6" fill="none" stroke="#111" stroke-width="0.4" opacity="0.78"/>
<circle cx="103.63" cy="114.94" r="0.6" fill="none" stroke="#111" stroke-width="0.4" opacity="0.78"/>
<circle cx="101.36" cy="112.80" r="0.6" fill="none" stroke="#111" stroke-width="0.4" opacity="0.78"/>
<circle cx="104.91" cy="118.69" r="0.6" fill="none" stroke="#111" stroke-width="0.4" opacity="0.78"/>
<circle cx="99.76" cy="107.60" r="0.6" fill="none" stroke="#111" stroke-width="0.4" opacity="0.78"/>
<circle cx="103.00" cy="77.90" r="0.6" fill="none" stroke="#111" stroke-width="0.4" opacity="0.78"/>
<circle cx="97.50" cy="136.60" r="0.6" fill="none" stroke="#111" stroke-width="0.4" opacity="0.78"/>
<circle cx="102.50" cy="136.60" r="0.6" fill="none" stroke="#111" stroke-width="0.4" opacity="0.78"/>
<circle cx="101.00" cy="97.90" r="0.6" fill="none" stroke="#111" stroke-width="0.4" opacity="0.78"/>
<circle cx="103.00" cy="99.80" r="0.6" fill="none" stroke="#111" stroke-width="0.4" opacity="0.78"/>
<circle cx="101.50" cy="101.50" r="0.6" fill="none" stroke="#111" stroke-width="0.4" opacity="0.78"/>
<text x="50.90" y="180.00" font-size="5.75" fill="#262626" text-anchor="middle" font-weight="normal" font-style="normal" >Metastatic</text>
<text x="103.60" y="180.00" font-size="5.75" fill="#262626" text-anchor="middle" font-weight="normal" font-style="normal" >Primary</text>
<text x="59.2" y="167.2" font-size="5.6" fill="#262626" textLength="68.3" lengthAdjust="spacingAndGlyphs">U-Mann-Whitney <tspan font-style="italic">P</tspan> = 0.0043</text>
<rect x="169.30" y="74.30" width="112.90" height="97.80" fill="none" stroke="#8a8a8a" stroke-width="0.8" />
<line x1="166.70" y1="164.40" x2="169.30" y2="164.40" stroke="#8a8a8a" stroke-width="0.6" />
<text x="165.50" y="164.40" font-size="5.6" fill="#262626" text-anchor="middle" font-weight="normal" font-style="normal" transform="rotate(-90 165.50 164.40)" >0</text>
<line x1="166.70" y1="150.84" x2="169.30" y2="150.84" stroke="#8a8a8a" stroke-width="0.6" />
<text x="165.50" y="150.84" font-size="5.6" fill="#262626" text-anchor="middle" font-weight="normal" font-style="normal" transform="rotate(-90 165.50 150.84)" >2</text>
<line x1="166.70" y1="137.28" x2="169.30" y2="137.28" stroke="#8a8a8a" stroke-width="0.6" />
<text x="165.50" y="137.28" font-size="5.6" fill="#262626" text-anchor="middle" font-weight="normal" font-style="normal" transform="rotate(-90 165.50 137.28)" >4</text>
<line x1="166.70" y1="123.72" x2="169.30" y2="123.72" stroke="#8a8a8a" stroke-width="0.6" />
<text x="165.50" y="123.72" font-size="5.6" fill="#262626" text-anchor="middle" font-weight="normal" font-style="normal" transform="rotate(-90 165.50 123.72)" >6</text>
<line x1="166.70" y1="110.16" x2="169.30" y2="110.16" stroke="#8a8a8a" stroke-width="0.6" />
<text x="165.50" y="110.16" font-size="5.6" fill="#262626" text-anchor="middle" font-weight="normal" font-style="normal" transform="rotate(-90 165.50 110.16)" >8</text>
<line x1="166.70" y1="96.60" x2="169.30" y2="96.60" stroke="#8a8a8a" stroke-width="0.6" />
<text x="165.50" y="96.60" font-size="5.6" fill="#262626" text-anchor="middle" font-weight="normal" font-style="normal" transform="rotate(-90 165.50 96.60)" >10</text>
<line x1="166.70" y1="83.04" x2="169.30" y2="83.04" stroke="#8a8a8a" stroke-width="0.6" />
<text x="165.50" y="83.04" font-size="5.6" fill="#262626" text-anchor="middle" font-weight="normal" font-style="normal" transform="rotate(-90 165.50 83.04)" >12</text>
<line x1="191.00" y1="172.10" x2="191.00" y2="174.50" stroke="#8a8a8a" stroke-width="0.6" />
<line x1="225.90" y1="172.10" x2="225.90" y2="174.50" stroke="#8a8a8a" stroke-width="0.6" />
<line x1="260.40" y1="172.10" x2="260.40" y2="174.50" stroke="#8a8a8a" stroke-width="0.6" />
<text x="156.60" y="120.30" font-size="5.5" fill="#262626" text-anchor="middle" font-weight="normal" font-style="normal" transform="rotate(-90 156.60 120.30)" >CCNE1 expression</text>
<line x1="191.00" y1="116.00" x2="191.00" y2="104.00" stroke="#9a9a9a" stroke-width="0.6" stroke-dasharray="1 1"/>
<line x1="191.00" y1="124.20" x2="191.00" y2="136.40" stroke="#9a9a9a" stroke-width="0.6" stroke-dasharray="1 1"/>
<line x1="184.50" y1="104.00" x2="197.50" y2="104.00" stroke="#a0a0a0" stroke-width="0.8" />
<line x1="184.50" y1="136.40" x2="197.50" y2="136.40" stroke="#a0a0a0" stroke-width="0.8" />
<rect x="177.00" y="116.00" width="28.00" height="8.20" fill="#0aa6d3" stroke="#0b88b0" stroke-width="0.6" />
<line x1="177.00" y1="120.30" x2="205.00" y2="120.30" stroke="#075a72" stroke-width="1.8" />
<line x1="225.75" y1="111.30" x2="225.75" y2="102.00" stroke="#9a9a9a" stroke-width="0.6" stroke-dasharray="1 1"/>
<line x1="225.75" y1="118.40" x2="225.75" y2="127.40" stroke="#9a9a9a" stroke-width="0.6" stroke-dasharray="1 1"/>
<line x1="218.80" y1="102.00" x2="232.70" y2="102.00" stroke="#a0a0a0" stroke-width="0.8" />
<line x1="218.80" y1="127.40" x2="232.70" y2="127.40" stroke="#a0a0a0" stroke-width="0.8" />
<rect x="211.80" y="111.30" width="28.20" height="7.10" fill="#10a652" stroke="#0b8a3e" stroke-width="0.6" />
<line x1="211.80" y1="115.00" x2="240.00" y2="115.00" stroke="#046b22" stroke-width="1.8" />
<line x1="260.45" y1="106.10" x2="260.45" y2="93.20" stroke="#9a9a9a" stroke-width="0.6" stroke-dasharray="1 1"/>
<line x1="260.45" y1="116.30" x2="260.45" y2="127.40" stroke="#9a9a9a" stroke-width="0.6" stroke-dasharray="1 1"/>
<line x1="253.50" y1="93.20" x2="267.40" y2="93.20" stroke="#a0a0a0" stroke-width="0.8" />
<line x1="253.50" y1="127.40" x2="267.40" y2="127.40" stroke="#a0a0a0" stroke-width="0.8" />
<rect x="246.00" y="106.10" width="28.70" height="10.20" fill="#f1adbb" stroke="#d096a4" stroke-width="0.6" />
<line x1="246.00" y1="110.30" x2="274.70" y2="110.30" stroke="#6b1a30" stroke-width="1.4" />
<circle cx="192.99" cy="105.48" r="0.6" fill="none" stroke="#111" stroke-width="0.4" opacity="0.78"/>
<circle cx="191.16" cy="118.48" r="0.6" fill="none" stroke="#111" stroke-width="0.4" opacity="0.78"/>
<circle cx="189.25" cy="126.61" r="0.6" fill="none" stroke="#111" stroke-width="0.4" opacity="0.78"/>
<circle cx="192.29" cy="124.29" r="0.6" fill="none" stroke="#111" stroke-width="0.4" opacity="0.78"/>
<circle cx="190.30" cy="117.14" r="0.6" fill="none" stroke="#111" stroke-width="0.4" opacity="0.78"/>
<circle cx="192.07" cy="112.80" r="0.6" fill="none" stroke="#111" stroke-width="0.4" opacity="0.78"/>
<circle cx="192.55" cy="115.05" r="0.6" fill="none" stroke="#111" stroke-width="0.4" opacity="0.78"/>
<circle cx="190.06" cy="117.46" r="0.6" fill="none" stroke="#111" stroke-width="0.4" opacity="0.78"/>
<circle cx="191.56" cy="121.40" r="0.6" fill="none" stroke="#111" stroke-width="0.4" opacity="0.78"/>
<circle cx="189.12" cy="119.52" r="0.6" fill="none" stroke="#111" stroke-width="0.4" opacity="0.78"/>
<circle cx="189.03" cy="115.80" r="0.6" fill="none" stroke="#111" stroke-width="0.4" opacity="0.78"/>
<circle cx="191.54" cy="125.13" r="0.6" fill="none" stroke="#111" stroke-width="0.4" opacity="0.78"/>
<circle cx="189.78" cy="122.76" r="0.6" fill="none" stroke="#111" stroke-width="0.4" opacity="0.78"/>
<circle cx="189.76" cy="113.32" r="0.6" fill="none" stroke="#111" stroke-width="0.4" opacity="0.78"/>
<circle cx="192.83" cy="110.95" r="0.6" fill="none" stroke="#111" stroke-width="0.4" opacity="0.78"/>
<circle cx="191.73" cy="116.35" r="0.6" fill="none" stroke="#111" stroke-width="0.4" opacity="0.78"/>
<circle cx="188.28" cy="135.80" r="0.6" fill="none" stroke="#111" stroke-width="0.4" opacity="0.78"/>
<circle cx="192.48" cy="132.20" r="0.6" fill="none" stroke="#111" stroke-width="0.4" opacity="0.78"/>
<circle cx="191.31" cy="105.48" r="0.6" fill="none" stroke="#111" stroke-width="0.4" opacity="0.78"/>
<circle cx="193.85" cy="118.81" r="0.6" fill="none" stroke="#111" stroke-width="0.4" opacity="0.78"/>
<circle cx="190.82" cy="124.27" r="0.6" fill="none" stroke="#111" stroke-width="0.4" opacity="0.78"/>
<circle cx="189.54" cy="105.43" r="0.6" fill="none" stroke="#111" stroke-width="0.4" opacity="0.78"/>
<circle cx="191.32" cy="119.57" r="0.6" fill="none" stroke="#111" stroke-width="0.4" opacity="0.78"/>
<circle cx="193.49" cy="122.56" r="0.6" fill="none" stroke="#111" stroke-width="0.4" opacity="0.78"/>
<circle cx="193.40" cy="120.72" r="0.6" fill="none" stroke="#111" stroke-width="0.4" opacity="0.78"/>
<circle cx="192.44" cy="118.53" r="0.6" fill="none" stroke="#111" stroke-width="0.4" opacity="0.78"/>
<circle cx="189.75" cy="119.27" r="0.6" fill="none" stroke="#111" stroke-width="0.4" opacity="0.78"/>
<circle cx="191.37" cy="113.22" r="0.6" fill="none" stroke="#111" stroke-width="0.4" opacity="0.78"/>
<circle cx="189.90" cy="129.06" r="0.6" fill="none" stroke="#111" stroke-width="0.4" opacity="0.78"/>
<circle cx="193.28" cy="115.63" r="0.6" fill="none" stroke="#111" stroke-width="0.4" opacity="0.78"/>
<circle cx="189.25" cy="117.97" r="0.6" fill="none" stroke="#111" stroke-width="0.4" opacity="0.78"/>
<circle cx="192.05" cy="122.45" r="0.6" fill="none" stroke="#111" stroke-width="0.4" opacity="0.78"/>
<circle cx="188.29" cy="121.14" r="0.6" fill="none" stroke="#111" stroke-width="0.4" opacity="0.78"/>
<circle cx="188.96" cy="129.86" r="0.6" fill="none" stroke="#111" stroke-width="0.4" opacity="0.78"/>
<circle cx="192.26" cy="123.88" r="0.6" fill="none" stroke="#111" stroke-width="0.4" opacity="0.78"/>
<circle cx="191.36" cy="117.98" r="0.6" fill="none" stroke="#111" stroke-width="0.4" opacity="0.78"/>
<circle cx="187.85" cy="120.69" r="0.6" fill="none" stroke="#111" stroke-width="0.4" opacity="0.78"/>
<circle cx="192.93" cy="113.90" r="0.6" fill="none" stroke="#111" stroke-width="0.4" opacity="0.78"/>
<circle cx="189.93" cy="119.05" r="0.6" fill="none" stroke="#111" stroke-width="0.4" opacity="0.78"/>
<circle cx="190.04" cy="120.46" r="0.6" fill="none" stroke="#111" stroke-width="0.4" opacity="0.78"/>
<circle cx="190.85" cy="121.02" r="0.6" fill="none" stroke="#111" stroke-width="0.4" opacity="0.78"/>
<circle cx="188.74" cy="123.12" r="0.6" fill="none" stroke="#111" stroke-width="0.4" opacity="0.78"/>
<circle cx="191.01" cy="120.88" r="0.6" fill="none" stroke="#111" stroke-width="0.4" opacity="0.78"/>
<circle cx="191.41" cy="123.73" r="0.6" fill="none" stroke="#111" stroke-width="0.4" opacity="0.78"/>
<circle cx="192.96" cy="115.59" r="0.6" fill="none" stroke="#111" stroke-width="0.4" opacity="0.78"/>
<circle cx="187.62" cy="112.16" r="0.6" fill="none" stroke="#111" stroke-width="0.4" opacity="0.78"/>
<circle cx="188.36" cy="122.79" r="0.6" fill="none" stroke="#111" stroke-width="0.4" opacity="0.78"/>
<circle cx="190.27" cy="130.85" r="0.6" fill="none" stroke="#111" stroke-width="0.4" opacity="0.78"/>
<circle cx="193.86" cy="123.89" r="0.6" fill="none" stroke="#111" stroke-width="0.4" opacity="0.78"/>
<circle cx="193.22" cy="135.83" r="0.6" fill="none" stroke="#111" stroke-width="0.4" opacity="0.78"/>
<circle cx="188.42" cy="128.75" r="0.6" fill="none" stroke="#111" stroke-width="0.4" opacity="0.78"/>
<circle cx="191.51" cy="121.43" r="0.6" fill="none" stroke="#111" stroke-width="0.4" opacity="0.78"/>
<circle cx="191.53" cy="112.61" r="0.6" fill="none" stroke="#111" stroke-width="0.4" opacity="0.78"/>
<circle cx="192.95" cy="124.30" r="0.6" fill="none" stroke="#111" stroke-width="0.4" opacity="0.78"/>
<circle cx="191.78" cy="122.96" r="0.6" fill="none" stroke="#111" stroke-width="0.4" opacity="0.78"/>
<circle cx="190.05" cy="114.49" r="0.6" fill="none" stroke="#111" stroke-width="0.4" opacity="0.78"/>
<circle cx="189.56" cy="116.32" r="0.6" fill="none" stroke="#111" stroke-width="0.4" opacity="0.78"/>
<circle cx="188.77" cy="104.52" r="0.6" fill="none" stroke="#111" stroke-width="0.4" opacity="0.78"/>
<circle cx="188.21" cy="108.45" r="0.6" fill="none" stroke="#111" stroke-width="0.4" opacity="0.78"/>
<circle cx="191.19" cy="117.04" r="0.6" fill="none" stroke="#111" stroke-width="0.4" opacity="0.78"/>
<circle cx="189.86" cy="123.97" r="0.6" fill="none" stroke="#111" stroke-width="0.4" opacity="0.78"/>
<circle cx="190.52" cy="112.80" r="0.6" fill="none" stroke="#111" stroke-width="0.4" opacity="0.78"/>
<circle cx="190.71" cy="121.58" r="0.6" fill="none" stroke="#111" stroke-width="0.4" opacity="0.78"/>
<circle cx="194.05" cy="112.98" r="0.6" fill="none" stroke="#111" stroke-width="0.4" opacity="0.78"/>
<circle cx="191.84" cy="118.46" r="0.6" fill="none" stroke="#111" stroke-width="0.4" opacity="0.78"/>
<circle cx="190.65" cy="111.74" r="0.6" fill="none" stroke="#111" stroke-width="0.4" opacity="0.78"/>
<circle cx="190.41" cy="114.85" r="0.6" fill="none" stroke="#111" stroke-width="0.4" opacity="0.78"/>
<circle cx="194.40" cy="126.06" r="0.6" fill="none" stroke="#111" stroke-width="0.4" opacity="0.78"/>
<circle cx="189.79" cy="117.43" r="0.6" fill="none" stroke="#111" stroke-width="0.4" opacity="0.78"/>
<circle cx="191.57" cy="120.03" r="0.6" fill="none" stroke="#111" stroke-width="0.4" opacity="0.78"/>
<circle cx="188.27" cy="119.78" r="0.6" fill="none" stroke="#111" stroke-width="0.4" opacity="0.78"/>
<circle cx="189.71" cy="129.22" r="0.6" fill="none" stroke="#111" stroke-width="0.4" opacity="0.78"/>
<circle cx="191.17" cy="112.56" r="0.6" fill="none" stroke="#111" stroke-width="0.4" opacity="0.78"/>
<circle cx="189.68" cy="120.39" r="0.6" fill="none" stroke="#111" stroke-width="0.4" opacity="0.78"/>
<circle cx="192.67" cy="122.07" r="0.6" fill="none" stroke="#111" stroke-width="0.4" opacity="0.78"/>
<circle cx="192.92" cy="116.00" r="0.6" fill="none" stroke="#111" stroke-width="0.4" opacity="0.78"/>
<circle cx="192.48" cy="115.89" r="0.6" fill="none" stroke="#111" stroke-width="0.4" opacity="0.78"/>
<circle cx="194.33" cy="119.82" r="0.6" fill="none" stroke="#111" stroke-width="0.4" opacity="0.78"/>
<circle cx="188.87" cy="132.55" r="0.6" fill="none" stroke="#111" stroke-width="0.4" opacity="0.78"/>
<circle cx="194.12" cy="110.72" r="0.6" fill="none" stroke="#111" stroke-width="0.4" opacity="0.78"/>
<circle cx="191.58" cy="119.13" r="0.6" fill="none" stroke="#111" stroke-width="0.4" opacity="0.78"/>
<circle cx="188.84" cy="116.54" r="0.6" fill="none" stroke="#111" stroke-width="0.4" opacity="0.78"/>
<circle cx="192.72" cy="120.00" r="0.6" fill="none" stroke="#111" stroke-width="0.4" opacity="0.78"/>
<circle cx="191.85" cy="124.25" r="0.6" fill="none" stroke="#111" stroke-width="0.4" opacity="0.78"/>
<circle cx="193.24" cy="116.00" r="0.6" fill="none" stroke="#111" stroke-width="0.4" opacity="0.78"/>
<circle cx="193.04" cy="117.84" r="0.6" fill="none" stroke="#111" stroke-width="0.4" opacity="0.78"/>
<circle cx="190.03" cy="131.95" r="0.6" fill="none" stroke="#111" stroke-width="0.4" opacity="0.78"/>
<circle cx="190.36" cy="116.41" r="0.6" fill="none" stroke="#111" stroke-width="0.4" opacity="0.78"/>
<circle cx="192.15" cy="125.50" r="0.6" fill="none" stroke="#111" stroke-width="0.4" opacity="0.78"/>
<circle cx="193.23" cy="115.76" r="0.6" fill="none" stroke="#111" stroke-width="0.4" opacity="0.78"/>
<circle cx="191.66" cy="124.44" r="0.6" fill="none" stroke="#111" stroke-width="0.4" opacity="0.78"/>
<circle cx="191.05" cy="118.46" r="0.6" fill="none" stroke="#111" stroke-width="0.4" opacity="0.78"/>
<circle cx="191.73" cy="117.99" r="0.6" fill="none" stroke="#111" stroke-width="0.4" opacity="0.78"/>
<circle cx="189.43" cy="108.26" r="0.6" fill="none" stroke="#111" stroke-width="0.4" opacity="0.78"/>
<circle cx="194.49" cy="110.76" r="0.6" fill="none" stroke="#111" stroke-width="0.4" opacity="0.78"/>
<circle cx="190.22" cy="127.35" r="0.6" fill="none" stroke="#111" stroke-width="0.4" opacity="0.78"/>
<circle cx="192.37" cy="116.07" r="0.6" fill="none" stroke="#111" stroke-width="0.4" opacity="0.78"/>
<circle cx="193.42" cy="125.87" r="0.6" fill="none" stroke="#111" stroke-width="0.4" opacity="0.78"/>
<circle cx="189.76" cy="127.89" r="0.6" fill="none" stroke="#111" stroke-width="0.4" opacity="0.78"/>
<circle cx="192.97" cy="116.04" r="0.6" fill="none" stroke="#111" stroke-width="0.4" opacity="0.78"/>
<circle cx="191.99" cy="128.05" r="0.6" fill="none" stroke="#111" stroke-width="0.4" opacity="0.78"/>
<circle cx="193.42" cy="123.99" r="0.6" fill="none" stroke="#111" stroke-width="0.4" opacity="0.78"/>
<circle cx="192.64" cy="118.30" r="0.6" fill="none" stroke="#111" stroke-width="0.4" opacity="0.78"/>
<circle cx="190.85" cy="126.44" r="0.6" fill="none" stroke="#111" stroke-width="0.4" opacity="0.78"/>
<circle cx="190.12" cy="121.60" r="0.6" fill="none" stroke="#111" stroke-width="0.4" opacity="0.78"/>
<circle cx="193.17" cy="133.65" r="0.6" fill="none" stroke="#111" stroke-width="0.4" opacity="0.78"/>
<circle cx="191.99" cy="109.59" r="0.6" fill="none" stroke="#111" stroke-width="0.4" opacity="0.78"/>
<circle cx="192.00" cy="116.98" r="0.6" fill="none" stroke="#111" stroke-width="0.4" opacity="0.78"/>
<circle cx="193.24" cy="112.17" r="0.6" fill="none" stroke="#111" stroke-width="0.4" opacity="0.78"/>
<circle cx="191.18" cy="122.13" r="0.6" fill="none" stroke="#111" stroke-width="0.4" opacity="0.78"/>
<circle cx="191.95" cy="117.63" r="0.6" fill="none" stroke="#111" stroke-width="0.4" opacity="0.78"/>
<circle cx="191.61" cy="121.32" r="0.6" fill="none" stroke="#111" stroke-width="0.4" opacity="0.78"/>
<circle cx="188.13" cy="123.60" r="0.6" fill="none" stroke="#111" stroke-width="0.4" opacity="0.78"/>
<circle cx="190.91" cy="123.88" r="0.6" fill="none" stroke="#111" stroke-width="0.4" opacity="0.78"/>
<circle cx="192.24" cy="109.54" r="0.6" fill="none" stroke="#111" stroke-width="0.4" opacity="0.78"/>
<circle cx="191.61" cy="123.75" r="0.6" fill="none" stroke="#111" stroke-width="0.4" opacity="0.78"/>
<circle cx="193.16" cy="114.59" r="0.6" fill="none" stroke="#111" stroke-width="0.4" opacity="0.78"/>
<circle cx="192.08" cy="129.00" r="0.6" fill="none" stroke="#111" stroke-width="0.4" opacity="0.78"/>
<circle cx="192.49" cy="104.79" r="0.6" fill="none" stroke="#111" stroke-width="0.4" opacity="0.78"/>
<circle cx="192.66" cy="115.90" r="0.6" fill="none" stroke="#111" stroke-width="0.4" opacity="0.78"/>
<circle cx="191.29" cy="118.84" r="0.6" fill="none" stroke="#111" stroke-width="0.4" opacity="0.78"/>
<circle cx="190.28" cy="115.99" r="0.6" fill="none" stroke="#111" stroke-width="0.4" opacity="0.78"/>
<circle cx="188.73" cy="115.94" r="0.6" fill="none" stroke="#111" stroke-width="0.4" opacity="0.78"/>
<circle cx="193.17" cy="126.51" r="0.6" fill="none" stroke="#111" stroke-width="0.4" opacity="0.78"/>
<circle cx="189.89" cy="129.68" r="0.6" fill="none" stroke="#111" stroke-width="0.4" opacity="0.78"/>
<circle cx="192.58" cy="118.34" r="0.6" fill="none" stroke="#111" stroke-width="0.4" opacity="0.78"/>
<circle cx="193.88" cy="109.91" r="0.6" fill="none" stroke="#111" stroke-width="0.4" opacity="0.78"/>
<circle cx="192.99" cy="122.23" r="0.6" fill="none" stroke="#111" stroke-width="0.4" opacity="0.78"/>
<circle cx="193.12" cy="116.67" r="0.6" fill="none" stroke="#111" stroke-width="0.4" opacity="0.78"/>
<circle cx="190.84" cy="120.11" r="0.6" fill="none" stroke="#111" stroke-width="0.4" opacity="0.78"/>
<circle cx="190.66" cy="108.05" r="0.6" fill="none" stroke="#111" stroke-width="0.4" opacity="0.78"/>
<circle cx="189.48" cy="111.80" r="0.6" fill="none" stroke="#111" stroke-width="0.4" opacity="0.78"/>
<circle cx="187.89" cy="112.97" r="0.6" fill="none" stroke="#111" stroke-width="0.4" opacity="0.78"/>
<circle cx="192.72" cy="117.04" r="0.6" fill="none" stroke="#111" stroke-width="0.4" opacity="0.78"/>
<circle cx="191.70" cy="119.56" r="0.6" fill="none" stroke="#111" stroke-width="0.4" opacity="0.78"/>
<circle cx="189.22" cy="115.95" r="0.6" fill="none" stroke="#111" stroke-width="0.4" opacity="0.78"/>
<circle cx="194.50" cy="126.22" r="0.6" fill="none" stroke="#111" stroke-width="0.4" opacity="0.78"/>
<circle cx="189.47" cy="132.64" r="0.6" fill="none" stroke="#111" stroke-width="0.4" opacity="0.78"/>
<circle cx="189.48" cy="119.04" r="0.6" fill="none" stroke="#111" stroke-width="0.4" opacity="0.78"/>
<circle cx="193.03" cy="124.65" r="0.6" fill="none" stroke="#111" stroke-width="0.4" opacity="0.78"/>
<circle cx="192.06" cy="119.39" r="0.6" fill="none" stroke="#111" stroke-width="0.4" opacity="0.78"/>
<circle cx="188.10" cy="121.32" r="0.6" fill="none" stroke="#111" stroke-width="0.4" opacity="0.78"/>
<circle cx="191.65" cy="122.31" r="0.6" fill="none" stroke="#111" stroke-width="0.4" opacity="0.78"/>
<circle cx="192.42" cy="115.55" r="0.6" fill="none" stroke="#111" stroke-width="0.4" opacity="0.78"/>
<circle cx="188.67" cy="124.66" r="0.6" fill="none" stroke="#111" stroke-width="0.4" opacity="0.78"/>
<circle cx="193.28" cy="124.29" r="0.6" fill="none" stroke="#111" stroke-width="0.4" opacity="0.78"/>
<circle cx="192.54" cy="122.22" r="0.6" fill="none" stroke="#111" stroke-width="0.4" opacity="0.78"/>
<circle cx="187.84" cy="129.61" r="0.6" fill="none" stroke="#111" stroke-width="0.4" opacity="0.78"/>
<circle cx="187.96" cy="116.65" r="0.6" fill="none" stroke="#111" stroke-width="0.4" opacity="0.78"/>
<circle cx="187.63" cy="121.94" r="0.6" fill="none" stroke="#111" stroke-width="0.4" opacity="0.78"/>
<circle cx="192.24" cy="113.32" r="0.6" fill="none" stroke="#111" stroke-width="0.4" opacity="0.78"/>
<circle cx="190.94" cy="108.71" r="0.6" fill="none" stroke="#111" stroke-width="0.4" opacity="0.78"/>
<circle cx="192.17" cy="108.15" r="0.6" fill="none" stroke="#111" stroke-width="0.4" opacity="0.78"/>
<circle cx="189.63" cy="112.33" r="0.6" fill="none" stroke="#111" stroke-width="0.4" opacity="0.78"/>
<circle cx="193.02" cy="124.91" r="0.6" fill="none" stroke="#111" stroke-width="0.4" opacity="0.78"/>
<circle cx="191.50" cy="114.81" r="0.6" fill="none" stroke="#111" stroke-width="0.4" opacity="0.78"/>
<circle cx="188.38" cy="115.73" r="0.6" fill="none" stroke="#111" stroke-width="0.4" opacity="0.78"/>
<circle cx="189.02" cy="126.39" r="0.6" fill="none" stroke="#111" stroke-width="0.4" opacity="0.78"/>
<circle cx="189.59" cy="120.08" r="0.6" fill="none" stroke="#111" stroke-width="0.4" opacity="0.78"/>
<circle cx="192.97" cy="132.12" r="0.6" fill="none" stroke="#111" stroke-width="0.4" opacity="0.78"/>
<circle cx="192.15" cy="115.84" r="0.6" fill="none" stroke="#111" stroke-width="0.4" opacity="0.78"/>
<circle cx="189.72" cy="116.29" r="0.6" fill="none" stroke="#111" stroke-width="0.4" opacity="0.78"/>
<circle cx="192.49" cy="120.85" r="0.6" fill="none" stroke="#111" stroke-width="0.4" opacity="0.78"/>
<circle cx="194.62" cy="110.36" r="0.6" fill="none" stroke="#111" stroke-width="0.4" opacity="0.78"/>
<circle cx="188.43" cy="130.66" r="0.6" fill="none" stroke="#111" stroke-width="0.4" opacity="0.78"/>
<circle cx="189.33" cy="119.30" r="0.6" fill="none" stroke="#111" stroke-width="0.4" opacity="0.78"/>
<circle cx="191.53" cy="120.62" r="0.6" fill="none" stroke="#111" stroke-width="0.4" opacity="0.78"/>
<circle cx="193.20" cy="119.49" r="0.6" fill="none" stroke="#111" stroke-width="0.4" opacity="0.78"/>
<circle cx="191.21" cy="114.37" r="0.6" fill="none" stroke="#111" stroke-width="0.4" opacity="0.78"/>
<circle cx="194.45" cy="121.69" r="0.6" fill="none" stroke="#111" stroke-width="0.4" opacity="0.78"/>
<circle cx="191.70" cy="158.00" r="0.6" fill="none" stroke="#111" stroke-width="0.4" opacity="0.78"/>
<circle cx="191.70" cy="168.30" r="0.6" fill="none" stroke="#111" stroke-width="0.4" opacity="0.78"/>
<circle cx="191.00" cy="137.50" r="0.6" fill="none" stroke="#111" stroke-width="0.4" opacity="0.78"/>
<circle cx="192.00" cy="138.50" r="0.6" fill="none" stroke="#111" stroke-width="0.4" opacity="0.78"/>
<circle cx="228.49" cy="115.83" r="0.6" fill="none" stroke="#111" stroke-width="0.4" opacity="0.78"/>
<circle cx="227.58" cy="113.78" r="0.6" fill="none" stroke="#111" stroke-width="0.4" opacity="0.78"/>
<circle cx="228.30" cy="113.31" r="0.6" fill="none" stroke="#111" stroke-width="0.4" opacity="0.78"/>
<circle cx="222.81" cy="118.65" r="0.6" fill="none" stroke="#111" stroke-width="0.4" opacity="0.78"/>
<circle cx="224.22" cy="110.51" r="0.6" fill="none" stroke="#111" stroke-width="0.4" opacity="0.78"/>
<circle cx="225.06" cy="120.90" r="0.6" fill="none" stroke="#111" stroke-width="0.4" opacity="0.78"/>
<circle cx="224.87" cy="114.08" r="0.6" fill="none" stroke="#111" stroke-width="0.4" opacity="0.78"/>
<circle cx="224.88" cy="111.22" r="0.6" fill="none" stroke="#111" stroke-width="0.4" opacity="0.78"/>
<circle cx="227.49" cy="116.74" r="0.6" fill="none" stroke="#111" stroke-width="0.4" opacity="0.78"/>
<circle cx="226.33" cy="113.40" r="0.6" fill="none" stroke="#111" stroke-width="0.4" opacity="0.78"/>
<circle cx="226.55" cy="114.34" r="0.6" fill="none" stroke="#111" stroke-width="0.4" opacity="0.78"/>
<circle cx="225.22" cy="108.75" r="0.6" fill="none" stroke="#111" stroke-width="0.4" opacity="0.78"/>
<circle cx="223.46" cy="118.40" r="0.6" fill="none" stroke="#111" stroke-width="0.4" opacity="0.78"/>
<circle cx="223.71" cy="123.27" r="0.6" fill="none" stroke="#111" stroke-width="0.4" opacity="0.78"/>
<circle cx="225.40" cy="114.92" r="0.6" fill="none" stroke="#111" stroke-width="0.4" opacity="0.78"/>
<circle cx="228.40" cy="113.56" r="0.6" fill="none" stroke="#111" stroke-width="0.4" opacity="0.78"/>
<circle cx="225.13" cy="110.66" r="0.6" fill="none" stroke="#111" stroke-width="0.4" opacity="0.78"/>
<circle cx="223.91" cy="107.59" r="0.6" fill="none" stroke="#111" stroke-width="0.4" opacity="0.78"/>
<circle cx="223.35" cy="117.61" r="0.6" fill="none" stroke="#111" stroke-width="0.4" opacity="0.78"/>
<circle cx="222.76" cy="119.53" r="0.6" fill="none" stroke="#111" stroke-width="0.4" opacity="0.78"/>
<circle cx="229.22" cy="114.71" r="0.6" fill="none" stroke="#111" stroke-width="0.4" opacity="0.78"/>
<circle cx="226.82" cy="105.88" r="0.6" fill="none" stroke="#111" stroke-width="0.4" opacity="0.78"/>
<circle cx="222.87" cy="117.59" r="0.6" fill="none" stroke="#111" stroke-width="0.4" opacity="0.78"/>
<circle cx="227.17" cy="113.66" r="0.6" fill="none" stroke="#111" stroke-width="0.4" opacity="0.78"/>
<circle cx="224.06" cy="118.01" r="0.6" fill="none" stroke="#111" stroke-width="0.4" opacity="0.78"/>
<circle cx="228.26" cy="115.90" r="0.6" fill="none" stroke="#111" stroke-width="0.4" opacity="0.78"/>
<circle cx="223.52" cy="115.11" r="0.6" fill="none" stroke="#111" stroke-width="0.4" opacity="0.78"/>
<circle cx="224.89" cy="107.73" r="0.6" fill="none" stroke="#111" stroke-width="0.4" opacity="0.78"/>
<circle cx="224.39" cy="107.16" r="0.6" fill="none" stroke="#111" stroke-width="0.4" opacity="0.78"/>
<circle cx="225.99" cy="111.89" r="0.6" fill="none" stroke="#111" stroke-width="0.4" opacity="0.78"/>
<circle cx="226.29" cy="114.22" r="0.6" fill="none" stroke="#111" stroke-width="0.4" opacity="0.78"/>
<circle cx="228.62" cy="113.80" r="0.6" fill="none" stroke="#111" stroke-width="0.4" opacity="0.78"/>
<circle cx="225.12" cy="105.36" r="0.6" fill="none" stroke="#111" stroke-width="0.4" opacity="0.78"/>
<circle cx="225.50" cy="119.67" r="0.6" fill="none" stroke="#111" stroke-width="0.4" opacity="0.78"/>
<circle cx="226.79" cy="114.40" r="0.6" fill="none" stroke="#111" stroke-width="0.4" opacity="0.78"/>
<circle cx="228.24" cy="113.35" r="0.6" fill="none" stroke="#111" stroke-width="0.4" opacity="0.78"/>
<circle cx="225.34" cy="113.15" r="0.6" fill="none" stroke="#111" stroke-width="0.4" opacity="0.78"/>
<circle cx="223.71" cy="113.38" r="0.6" fill="none" stroke="#111" stroke-width="0.4" opacity="0.78"/>
<circle cx="225.12" cy="118.42" r="0.6" fill="none" stroke="#111" stroke-width="0.4" opacity="0.78"/>
<circle cx="224.36" cy="117.72" r="0.6" fill="none" stroke="#111" stroke-width="0.4" opacity="0.78"/>
<circle cx="225.84" cy="117.51" r="0.6" fill="none" stroke="#111" stroke-width="0.4" opacity="0.78"/>
<circle cx="225.53" cy="118.40" r="0.6" fill="none" stroke="#111" stroke-width="0.4" opacity="0.78"/>
<circle cx="228.95" cy="113.65" r="0.6" fill="none" stroke="#111" stroke-width="0.4" opacity="0.78"/>
<circle cx="223.59" cy="105.25" r="0.6" fill="none" stroke="#111" stroke-width="0.4" opacity="0.78"/>
<circle cx="227.76" cy="110.41" r="0.6" fill="none" stroke="#111" stroke-width="0.4" opacity="0.78"/>
<circle cx="225.29" cy="108.48" r="0.6" fill="none" stroke="#111" stroke-width="0.4" opacity="0.78"/>
<circle cx="223.77" cy="113.30" r="0.6" fill="none" stroke="#111" stroke-width="0.4" opacity="0.78"/>
<circle cx="224.05" cy="119.21" r="0.6" fill="none" stroke="#111" stroke-width="0.4" opacity="0.78"/>
<circle cx="225.73" cy="118.25" r="0.6" fill="none" stroke="#111" stroke-width="0.4" opacity="0.78"/>
<circle cx="224.81" cy="120.34" r="0.6" fill="none" stroke="#111" stroke-width="0.4" opacity="0.78"/>
<circle cx="222.69" cy="113.77" r="0.6" fill="none" stroke="#111" stroke-width="0.4" opacity="0.78"/>
<circle cx="226.88" cy="111.05" r="0.6" fill="none" stroke="#111" stroke-width="0.4" opacity="0.78"/>
<circle cx="224.67" cy="121.01" r="0.6" fill="none" stroke="#111" stroke-width="0.4" opacity="0.78"/>
<circle cx="223.92" cy="118.25" r="0.6" fill="none" stroke="#111" stroke-width="0.4" opacity="0.78"/>
<circle cx="228.59" cy="110.71" r="0.6" fill="none" stroke="#111" stroke-width="0.4" opacity="0.78"/>
<circle cx="228.18" cy="110.75" r="0.6" fill="none" stroke="#111" stroke-width="0.4" opacity="0.78"/>
<circle cx="225.32" cy="111.24" r="0.6" fill="none" stroke="#111" stroke-width="0.4" opacity="0.78"/>
<circle cx="223.84" cy="104.82" r="0.6" fill="none" stroke="#111" stroke-width="0.4" opacity="0.78"/>
<circle cx="224.18" cy="118.44" r="0.6" fill="none" stroke="#111" stroke-width="0.4" opacity="0.78"/>
<circle cx="228.48" cy="116.94" r="0.6" fill="none" stroke="#111" stroke-width="0.4" opacity="0.78"/>
<circle cx="224.89" cy="110.72" r="0.6" fill="none" stroke="#111" stroke-width="0.4" opacity="0.78"/>
<circle cx="224.29" cy="118.40" r="0.6" fill="none" stroke="#111" stroke-width="0.4" opacity="0.78"/>
<circle cx="224.10" cy="120.69" r="0.6" fill="none" stroke="#111" stroke-width="0.4" opacity="0.78"/>
<circle cx="227.21" cy="120.74" r="0.6" fill="none" stroke="#111" stroke-width="0.4" opacity="0.78"/>
<circle cx="222.45" cy="125.51" r="0.6" fill="none" stroke="#111" stroke-width="0.4" opacity="0.78"/>
<circle cx="227.92" cy="104.47" r="0.6" fill="none" stroke="#111" stroke-width="0.4" opacity="0.78"/>
<circle cx="226.37" cy="113.26" r="0.6" fill="none" stroke="#111" stroke-width="0.4" opacity="0.78"/>
<circle cx="226.18" cy="110.81" r="0.6" fill="none" stroke="#111" stroke-width="0.4" opacity="0.78"/>
<circle cx="225.10" cy="125.45" r="0.6" fill="none" stroke="#111" stroke-width="0.4" opacity="0.78"/>
<circle cx="223.82" cy="107.17" r="0.6" fill="none" stroke="#111" stroke-width="0.4" opacity="0.78"/>
<circle cx="224.70" cy="116.34" r="0.6" fill="none" stroke="#111" stroke-width="0.4" opacity="0.78"/>
<circle cx="226.23" cy="108.75" r="0.6" fill="none" stroke="#111" stroke-width="0.4" opacity="0.78"/>
<circle cx="227.56" cy="111.17" r="0.6" fill="none" stroke="#111" stroke-width="0.4" opacity="0.78"/>
<circle cx="229.31" cy="119.30" r="0.6" fill="none" stroke="#111" stroke-width="0.4" opacity="0.78"/>
<circle cx="226.67" cy="109.65" r="0.6" fill="none" stroke="#111" stroke-width="0.4" opacity="0.78"/>
<circle cx="224.86" cy="113.02" r="0.6" fill="none" stroke="#111" stroke-width="0.4" opacity="0.78"/>
<circle cx="227.38" cy="114.85" r="0.6" fill="none" stroke="#111" stroke-width="0.4" opacity="0.78"/>
<circle cx="224.24" cy="116.86" r="0.6" fill="none" stroke="#111" stroke-width="0.4" opacity="0.78"/>
<circle cx="226.88" cy="116.60" r="0.6" fill="none" stroke="#111" stroke-width="0.4" opacity="0.78"/>
<circle cx="223.82" cy="118.91" r="0.6" fill="none" stroke="#111" stroke-width="0.4" opacity="0.78"/>
<circle cx="222.58" cy="115.50" r="0.6" fill="none" stroke="#111" stroke-width="0.4" opacity="0.78"/>
<circle cx="228.46" cy="123.34" r="0.6" fill="none" stroke="#111" stroke-width="0.4" opacity="0.78"/>
<circle cx="224.68" cy="114.80" r="0.6" fill="none" stroke="#111" stroke-width="0.4" opacity="0.78"/>
<circle cx="227.64" cy="111.42" r="0.6" fill="none" stroke="#111" stroke-width="0.4" opacity="0.78"/>
<circle cx="224.09" cy="122.22" r="0.6" fill="none" stroke="#111" stroke-width="0.4" opacity="0.78"/>
<circle cx="224.82" cy="112.98" r="0.6" fill="none" stroke="#111" stroke-width="0.4" opacity="0.78"/>
<circle cx="224.11" cy="117.17" r="0.6" fill="none" stroke="#111" stroke-width="0.4" opacity="0.78"/>
<circle cx="223.43" cy="122.08" r="0.6" fill="none" stroke="#111" stroke-width="0.4" opacity="0.78"/>
<circle cx="224.84" cy="105.07" r="0.6" fill="none" stroke="#111" stroke-width="0.4" opacity="0.78"/>
<circle cx="226.71" cy="108.13" r="0.6" fill="none" stroke="#111" stroke-width="0.4" opacity="0.78"/>
<circle cx="224.65" cy="117.27" r="0.6" fill="none" stroke="#111" stroke-width="0.4" opacity="0.78"/>
<circle cx="224.45" cy="113.00" r="0.6" fill="none" stroke="#111" stroke-width="0.4" opacity="0.78"/>
<circle cx="223.74" cy="118.81" r="0.6" fill="none" stroke="#111" stroke-width="0.4" opacity="0.78"/>
<circle cx="226.72" cy="109.36" r="0.6" fill="none" stroke="#111" stroke-width="0.4" opacity="0.78"/>
<circle cx="227.20" cy="123.42" r="0.6" fill="none" stroke="#111" stroke-width="0.4" opacity="0.78"/>
<circle cx="226.91" cy="116.08" r="0.6" fill="none" stroke="#111" stroke-width="0.4" opacity="0.78"/>
<circle cx="226.21" cy="117.09" r="0.6" fill="none" stroke="#111" stroke-width="0.4" opacity="0.78"/>
<circle cx="228.00" cy="119.67" r="0.6" fill="none" stroke="#111" stroke-width="0.4" opacity="0.78"/>
<circle cx="226.62" cy="123.96" r="0.6" fill="none" stroke="#111" stroke-width="0.4" opacity="0.78"/>
<circle cx="226.64" cy="118.19" r="0.6" fill="none" stroke="#111" stroke-width="0.4" opacity="0.78"/>
<circle cx="225.88" cy="115.24" r="0.6" fill="none" stroke="#111" stroke-width="0.4" opacity="0.78"/>
<circle cx="226.67" cy="117.43" r="0.6" fill="none" stroke="#111" stroke-width="0.4" opacity="0.78"/>
<circle cx="225.38" cy="118.40" r="0.6" fill="none" stroke="#111" stroke-width="0.4" opacity="0.78"/>
<circle cx="225.93" cy="114.40" r="0.6" fill="none" stroke="#111" stroke-width="0.4" opacity="0.78"/>
<circle cx="224.61" cy="110.76" r="0.6" fill="none" stroke="#111" stroke-width="0.4" opacity="0.78"/>
<circle cx="224.21" cy="114.11" r="0.6" fill="none" stroke="#111" stroke-width="0.4" opacity="0.78"/>
<circle cx="227.57" cy="114.74" r="0.6" fill="none" stroke="#111" stroke-width="0.4" opacity="0.78"/>
<circle cx="225.61" cy="116.54" r="0.6" fill="none" stroke="#111" stroke-width="0.4" opacity="0.78"/>
<circle cx="224.36" cy="122.26" r="0.6" fill="none" stroke="#111" stroke-width="0.4" opacity="0.78"/>
<circle cx="224.12" cy="112.13" r="0.6" fill="none" stroke="#111" stroke-width="0.4" opacity="0.78"/>
<circle cx="222.50" cy="121.37" r="0.6" fill="none" stroke="#111" stroke-width="0.4" opacity="0.78"/>
<circle cx="227.60" cy="123.36" r="0.6" fill="none" stroke="#111" stroke-width="0.4" opacity="0.78"/>
<circle cx="227.59" cy="111.18" r="0.6" fill="none" stroke="#111" stroke-width="0.4" opacity="0.78"/>
<circle cx="227.91" cy="106.08" r="0.6" fill="none" stroke="#111" stroke-width="0.4" opacity="0.78"/>
<circle cx="223.71" cy="118.29" r="0.6" fill="none" stroke="#111" stroke-width="0.4" opacity="0.78"/>
<circle cx="225.78" cy="113.17" r="0.6" fill="none" stroke="#111" stroke-width="0.4" opacity="0.78"/>
<circle cx="226.40" cy="109.03" r="0.6" fill="none" stroke="#111" stroke-width="0.4" opacity="0.78"/>
<circle cx="226.17" cy="109.87" r="0.6" fill="none" stroke="#111" stroke-width="0.4" opacity="0.78"/>
<circle cx="226.58" cy="124.54" r="0.6" fill="none" stroke="#111" stroke-width="0.4" opacity="0.78"/>
<circle cx="224.98" cy="120.79" r="0.6" fill="none" stroke="#111" stroke-width="0.4" opacity="0.78"/>
<circle cx="225.20" cy="77.60" r="0.6" fill="none" stroke="#111" stroke-width="0.4" opacity="0.78"/>
<circle cx="222.50" cy="131.00" r="0.6" fill="none" stroke="#111" stroke-width="0.4" opacity="0.78"/>
<circle cx="227.50" cy="131.00" r="0.6" fill="none" stroke="#111" stroke-width="0.4" opacity="0.78"/>
<circle cx="225.50" cy="98.50" r="0.6" fill="none" stroke="#111" stroke-width="0.4" opacity="0.78"/>
<circle cx="226.00" cy="100.50" r="0.6" fill="none" stroke="#111" stroke-width="0.4" opacity="0.78"/>
<circle cx="262.43" cy="99.91" r="0.6" fill="none" stroke="#111" stroke-width="0.4" opacity="0.78"/>
<circle cx="259.38" cy="110.79" r="0.6" fill="none" stroke="#111" stroke-width="0.4" opacity="0.78"/>
<circle cx="259.00" cy="112.14" r="0.6" fill="none" stroke="#111" stroke-width="0.4" opacity="0.78"/>
<circle cx="261.47" cy="106.20" r="0.6" fill="none" stroke="#111" stroke-width="0.4" opacity="0.78"/>
<circle cx="260.24" cy="97.31" r="0.6" fill="none" stroke="#111" stroke-width="0.4" opacity="0.78"/>
<circle cx="257.72" cy="109.23" r="0.6" fill="none" stroke="#111" stroke-width="0.4" opacity="0.78"/>
<circle cx="260.53" cy="107.02" r="0.6" fill="none" stroke="#111" stroke-width="0.4" opacity="0.78"/>
<circle cx="262.81" cy="116.63" r="0.6" fill="none" stroke="#111" stroke-width="0.4" opacity="0.78"/>
<circle cx="262.50" cy="113.46" r="0.6" fill="none" stroke="#111" stroke-width="0.4" opacity="0.78"/>
<circle cx="258.86" cy="112.99" r="0.6" fill="none" stroke="#111" stroke-width="0.4" opacity="0.78"/>
<circle cx="259.06" cy="119.09" r="0.6" fill="none" stroke="#111" stroke-width="0.4" opacity="0.78"/>
<circle cx="258.95" cy="103.84" r="0.6" fill="none" stroke="#111" stroke-width="0.4" opacity="0.78"/>
<circle cx="259.39" cy="105.18" r="0.6" fill="none" stroke="#111" stroke-width="0.4" opacity="0.78"/>
<circle cx="260.27" cy="102.33" r="0.6" fill="none" stroke="#111" stroke-width="0.4" opacity="0.78"/>
<circle cx="259.52" cy="110.67" r="0.6" fill="none" stroke="#111" stroke-width="0.4" opacity="0.78"/>
<circle cx="261.72" cy="111.43" r="0.6" fill="none" stroke="#111" stroke-width="0.4" opacity="0.78"/>
<circle cx="261.90" cy="123.28" r="0.6" fill="none" stroke="#111" stroke-width="0.4" opacity="0.78"/>
<circle cx="259.04" cy="116.54" r="0.6" fill="none" stroke="#111" stroke-width="0.4" opacity="0.78"/>
<circle cx="260.24" cy="107.45" r="0.6" fill="none" stroke="#111" stroke-width="0.4" opacity="0.78"/>
<circle cx="262.74" cy="106.92" r="0.6" fill="none" stroke="#111" stroke-width="0.4" opacity="0.78"/>
<circle cx="259.62" cy="115.68" r="0.6" fill="none" stroke="#111" stroke-width="0.4" opacity="0.78"/>
<circle cx="258.87" cy="100.33" r="0.6" fill="none" stroke="#111" stroke-width="0.4" opacity="0.78"/>
<circle cx="262.50" cy="123.50" r="0.6" fill="none" stroke="#111" stroke-width="0.4" opacity="0.78"/>
<text x="190.90" y="180.00" font-size="5.75" fill="#262626" text-anchor="middle" font-weight="normal" font-style="normal" >LumA</text>
<text x="226.50" y="180.00" font-size="5.75" fill="#262626" text-anchor="middle" font-weight="normal" font-style="normal" >LumB</text>
<text x="260.30" y="180.00" font-size="5.75" fill="#262626" text-anchor="middle" font-weight="normal" font-style="normal" >Non-luminal</text>
<text x="213.0" y="167.8" font-size="5.6" fill="#262626" textLength="63.2" lengthAdjust="spacingAndGlyphs">Kruskal-Wallis, <tspan font-style="italic">P</tspan> &lt; 0.0001</text>
<rect x="22.20" y="264.80" width="112.10" height="104.20" fill="none" stroke="#7a7a7a" stroke-width="0.8" />
<line x1="19.40" y1="356.30" x2="22.20" y2="356.30" stroke="#6a6a6a" stroke-width="0.7" />
<text x="16.60" y="356.30" font-size="5.6" fill="#262626" text-anchor="middle" font-weight="normal" font-style="normal" transform="rotate(-90 16.60 356.30)" >5</text>
<line x1="19.40" y1="331.55" x2="22.20" y2="331.55" stroke="#6a6a6a" stroke-width="0.7" />
<text x="16.60" y="331.55" font-size="5.6" fill="#262626" text-anchor="middle" font-weight="normal" font-style="normal" transform="rotate(-90 16.60 331.55)" >6</text>
<line x1="19.40" y1="306.80" x2="22.20" y2="306.80" stroke="#6a6a6a" stroke-width="0.7" />
<text x="16.60" y="306.80" font-size="5.6" fill="#262626" text-anchor="middle" font-weight="normal" font-style="normal" transform="rotate(-90 16.60 306.80)" >7</text>
<line x1="19.40" y1="282.05" x2="22.20" y2="282.05" stroke="#6a6a6a" stroke-width="0.7" />
<text x="16.60" y="282.05" font-size="5.6" fill="#262626" text-anchor="middle" font-weight="normal" font-style="normal" transform="rotate(-90 16.60 282.05)" >8</text>
<text x="6.00" y="316.30" font-size="5.7" fill="#262626" text-anchor="middle" font-weight="normal" font-style="normal" transform="rotate(-90 6.00 316.30)" >CCNE1</text>
<line x1="52.30" y1="369.00" x2="52.30" y2="372.00" stroke="#6a6a6a" stroke-width="0.7" />
<line x1="103.90" y1="369.00" x2="103.90" y2="372.00" stroke="#6a6a6a" stroke-width="0.7" />
<line x1="52.30" y1="300.90" x2="52.30" y2="272.70" stroke="#4a4a4a" stroke-width="0.7" stroke-dasharray="1.3 1.1"/>
<line x1="52.30" y1="342.00" x2="52.30" y2="364.90" stroke="#4a4a4a" stroke-width="0.7" stroke-dasharray="1.3 1.1"/>
<line x1="41.80" y1="272.70" x2="62.60" y2="272.70" stroke="#777" stroke-width="0.8" />
<line x1="41.80" y1="364.90" x2="62.60" y2="364.90" stroke="#777" stroke-width="0.8" />
<rect x="31.60" y="300.90" width="40.90" height="41.10" fill="#a3d9cf" stroke="#4f6e68" stroke-width="0.7" />
<line x1="31.60" y1="323.30" x2="72.50" y2="323.30" stroke="#0a2a25" stroke-width="1.9" />
<line x1="104.10" y1="282.40" x2="104.10" y2="268.80" stroke="#777" stroke-width="0.7" stroke-dasharray="1.3 1.1"/>
<line x1="104.10" y1="323.50" x2="104.10" y2="354.50" stroke="#777" stroke-width="0.7" stroke-dasharray="1.3 1.1"/>
<line x1="93.40" y1="268.80" x2="114.80" y2="268.80" stroke="#888" stroke-width="0.8" />
<line x1="93.40" y1="354.50" x2="114.80" y2="354.50" stroke="#888" stroke-width="0.8" />
<rect x="83.30" y="282.40" width="41.50" height="41.10" fill="#fdc88e" stroke="#9a7c5c" stroke-width="0.7" />
<line x1="83.30" y1="302.30" x2="124.80" y2="302.30" stroke="#2a1800" stroke-width="1.9" />
<text x="51.80" y="381.30" font-size="5.85" fill="#262626" text-anchor="middle" font-weight="normal" font-style="normal" >Primary</text>
<text x="103.80" y="381.30" font-size="5.85" fill="#262626" text-anchor="middle" font-weight="normal" font-style="normal" >Metastatic</text>
<line x1="172.00" y1="358.00" x2="280.30" y2="358.00" stroke="#ececec" stroke-width="0.6" />
<line x1="172.00" y1="333.60" x2="280.30" y2="333.60" stroke="#ececec" stroke-width="0.6" />
<line x1="172.00" y1="309.20" x2="280.30" y2="309.20" stroke="#ececec" stroke-width="0.6" />
<line x1="172.00" y1="284.80" x2="280.30" y2="284.80" stroke="#ececec" stroke-width="0.6" />
<line x1="201.50" y1="267.40" x2="201.50" y2="371.00" stroke="#ececec" stroke-width="0.6" />
<line x1="250.50" y1="267.40" x2="250.50" y2="371.00" stroke="#ececec" stroke-width="0.6" />
<rect x="172.00" y="267.40" width="108.30" height="103.60" fill="none" stroke="#c6c6c6" stroke-width="0.8" />
<line x1="170.00" y1="358.00" x2="172.00" y2="358.00" stroke="#b0b0b0" stroke-width="0.6" />
<text x="166.50" y="360.00" font-size="5.6" fill="#262626" text-anchor="middle" font-weight="normal" font-style="normal" >5</text>
<line x1="170.00" y1="333.60" x2="172.00" y2="333.60" stroke="#b0b0b0" stroke-width="0.6" />
<text x="166.50" y="335.60" font-size="5.6" fill="#262626" text-anchor="middle" font-weight="normal" font-style="normal" >6</text>
<line x1="170.00" y1="309.20" x2="172.00" y2="309.20" stroke="#b0b0b0" stroke-width="0.6" />
<text x="166.50" y="311.20" font-size="5.6" fill="#262626" text-anchor="middle" font-weight="normal" font-style="normal" >7</text>
<line x1="170.00" y1="284.80" x2="172.00" y2="284.80" stroke="#b0b0b0" stroke-width="0.6" />
<text x="166.50" y="286.80" font-size="5.6" fill="#262626" text-anchor="middle" font-weight="normal" font-style="normal" >8</text>
<line x1="201.50" y1="371.00" x2="201.50" y2="373.00" stroke="#b0b0b0" stroke-width="0.6" />
<line x1="250.50" y1="371.00" x2="250.50" y2="373.00" stroke="#b0b0b0" stroke-width="0.6" />
<text x="161.70" y="322.00" font-size="5.7" fill="#262626" text-anchor="middle" font-weight="normal" font-style="normal" transform="rotate(-90 161.70 322.00)" >CCNE1</text>
<line x1="201.50" y1="276.40" x2="250.50" y2="282.40" stroke="#222" stroke-width="0.8" />
<line x1="201.50" y1="276.40" x2="250.50" y2="292.70" stroke="#222" stroke-width="0.8" />
<line x1="201.50" y1="297.50" x2="250.50" y2="302.30" stroke="#222" stroke-width="0.8" />
<line x1="201.50" y1="303.30" x2="250.50" y2="304.70" stroke="#222" stroke-width="0.8" />
<line x1="201.50" y1="310.00" x2="250.50" y2="272.10" stroke="#222" stroke-width="0.8" />
<line x1="201.50" y1="311.90" x2="250.50" y2="282.40" stroke="#222" stroke-width="0.8" />
<line x1="201.50" y1="323.20" x2="250.50" y2="326.80" stroke="#222" stroke-width="0.8" />
<line x1="201.50" y1="328.00" x2="250.50" y2="356.00" stroke="#222" stroke-width="0.8" />
<line x1="201.50" y1="338.80" x2="250.50" y2="304.70" stroke="#222" stroke-width="0.8" />
<line x1="201.50" y1="340.00" x2="250.50" y2="326.30" stroke="#222" stroke-width="0.8" />
<line x1="201.50" y1="344.80" x2="250.50" y2="347.90" stroke="#222" stroke-width="0.8" />
<line x1="201.50" y1="346.00" x2="250.50" y2="286.00" stroke="#222" stroke-width="0.8" />
<line x1="201.50" y1="352.00" x2="250.50" y2="307.10" stroke="#222" stroke-width="0.8" />
<line x1="201.50" y1="366.40" x2="250.50" y2="311.20" stroke="#222" stroke-width="0.8" />
<text x="201.10" y="378.60" font-size="5.85" fill="#262626" text-anchor="middle" font-weight="normal" font-style="normal" >Primary</text>
<text x="252.30" y="378.60" font-size="5.85" fill="#262626" text-anchor="middle" font-weight="normal" font-style="normal" >Metastatic</text>
<text x="393.00" y="8.00" font-size="6.3" fill="#222" text-anchor="start" font-weight="bold" font-style="normal" textLength="40.80" lengthAdjust="spacingAndGlyphs" >PFS-Palbociclib</text>
<text x="355.00" y="17.60" font-size="5.2" fill="#444" text-anchor="start" font-weight="normal" font-style="normal" textLength="14.00" lengthAdjust="spacingAndGlyphs" >Strata</text>
<line x1="371.20" y1="15.70" x2="377.70" y2="15.70" stroke="#3b2c4e" stroke-width="1.1" />
<text x="380.00" y="17.60" font-size="5.2" fill="#444" text-anchor="start" font-weight="normal" font-style="normal" textLength="34.60" lengthAdjust="spacingAndGlyphs" >LowExpr CCNE1</text>
<line x1="417.80" y1="15.70" x2="425.70" y2="15.70" stroke="#36bcd6" stroke-width="1.1" />
<text x="428.30" y="17.60" font-size="5.2" fill="#444" text-anchor="start" font-weight="normal" font-style="normal" textLength="35.80" lengthAdjust="spacingAndGlyphs" >HighExpr CCNE1</text>
<line x1="322.40" y1="18.90" x2="322.40" y2="142.20" stroke="#666" stroke-width="1.0" />
<line x1="321.90" y1="142.20" x2="496.60" y2="142.20" stroke="#666" stroke-width="1.0" />
<line x1="320.40" y1="137.20" x2="322.40" y2="137.20" stroke="#444" stroke-width="0.7" />
<text x="318.80" y="139.50" font-size="6.1" fill="#3a3a3a" text-anchor="end" font-weight="normal" font-style="normal" >0.0</text>
<line x1="320.40" y1="114.76" x2="322.40" y2="114.76" stroke="#444" stroke-width="0.7" />
<text x="318.80" y="117.06" font-size="6.1" fill="#3a3a3a" text-anchor="end" font-weight="normal" font-style="normal" >0.2</text>
<line x1="320.40" y1="92.32" x2="322.40" y2="92.32" stroke="#444" stroke-width="0.7" />
<text x="318.80" y="94.62" font-size="6.1" fill="#3a3a3a" text-anchor="end" font-weight="normal" font-style="normal" >0.4</text>
<line x1="320.40" y1="69.88" x2="322.40" y2="69.88" stroke="#444" stroke-width="0.7" />
<text x="318.80" y="72.18" font-size="6.1" fill="#3a3a3a" text-anchor="end" font-weight="normal" font-style="normal" >0.6</text>
<line x1="320.40" y1="47.44" x2="322.40" y2="47.44" stroke="#444" stroke-width="0.7" />
<text x="318.80" y="49.74" font-size="6.1" fill="#3a3a3a" text-anchor="end" font-weight="normal" font-style="normal" >0.8</text>
<line x1="320.40" y1="25.00" x2="322.40" y2="25.00" stroke="#444" stroke-width="0.7" />
<text x="318.80" y="27.30" font-size="6.1" fill="#3a3a3a" text-anchor="end" font-weight="normal" font-style="normal" >1.0</text>
<line x1="330.30" y1="142.20" x2="330.30" y2="144.20" stroke="#444" stroke-width="0.7" />
<text x="330.30" y="150.00" font-size="6.1" fill="#3a3a3a" text-anchor="middle" font-weight="normal" font-style="normal" >0</text>
<line x1="361.98" y1="142.20" x2="361.98" y2="144.20" stroke="#444" stroke-width="0.7" />
<text x="361.98" y="150.00" font-size="6.1" fill="#3a3a3a" text-anchor="middle" font-weight="normal" font-style="normal" >10</text>
<line x1="393.66" y1="142.20" x2="393.66" y2="144.20" stroke="#444" stroke-width="0.7" />
<text x="393.66" y="150.00" font-size="6.1" fill="#3a3a3a" text-anchor="middle" font-weight="normal" font-style="normal" >20</text>
<line x1="425.34" y1="142.20" x2="425.34" y2="144.20" stroke="#444" stroke-width="0.7" />
<text x="425.34" y="150.00" font-size="6.1" fill="#3a3a3a" text-anchor="middle" font-weight="normal" font-style="normal" >30</text>
<line x1="457.02" y1="142.20" x2="457.02" y2="144.20" stroke="#444" stroke-width="0.7" />
<text x="457.02" y="150.00" font-size="6.1" fill="#3a3a3a" text-anchor="middle" font-weight="normal" font-style="normal" >40</text>
<line x1="488.70" y1="142.20" x2="488.70" y2="144.20" stroke="#444" stroke-width="0.7" />
<text x="488.70" y="150.00" font-size="6.1" fill="#3a3a3a" text-anchor="middle" font-weight="normal" font-style="normal" >50</text>
<text x="411.20" y="157.20" font-size="5.9" fill="#444" text-anchor="middle" font-weight="normal" font-style="normal" textLength="38.20" lengthAdjust="spacingAndGlyphs" >Time (months)</text>
<text x="304.70" y="81.20" font-size="4.9" fill="#444" text-anchor="middle" font-weight="normal" font-style="normal" transform="rotate(-90 304.70 81.20)" >PFS</text>
<rect x="377.70" y="52.00" width="142.30" height="10.70" fill="#c9c9c9" stroke="none" stroke-width="1" />
<line x1="377.70" y1="41.10" x2="520.00" y2="41.10" stroke="#2a2a2a" stroke-width="1.3" />
<line x1="377.70" y1="52.00" x2="520.00" y2="52.00" stroke="#2a2a2a" stroke-width="1.3" />
<line x1="377.70" y1="74.70" x2="520.00" y2="74.70" stroke="#2a2a2a" stroke-width="1.3" />
<text x="383.00" y="48.90" font-size="5.6" fill="#111" text-anchor="start" font-weight="bold" font-style="normal" textLength="28.80" lengthAdjust="spacingAndGlyphs" >CCNE1 levels</text>
<text x="420.50" y="48.90" font-size="5.6" fill="#111" text-anchor="start" font-weight="bold" font-style="normal" textLength="26.40" lengthAdjust="spacingAndGlyphs" >Median PFS</text>
<text x="454.90" y="48.90" font-size="5.6" fill="#111" text-anchor="start" font-weight="bold" font-style="normal" textLength="26.90" lengthAdjust="spacingAndGlyphs" >HR (95% CI)</text>
<text x="507.20" y="48.90" font-size="5.6" fill="#111" text-anchor="middle" font-weight="bold" font-style="italic" >P</text>
<text x="381.00" y="59.60" font-size="5.6" fill="#333" text-anchor="start" font-weight="normal" font-style="normal" textLength="34.40" lengthAdjust="spacingAndGlyphs" >LowExpr CCNE1</text>
<text x="381.00" y="70.70" font-size="5.6" fill="#333" text-anchor="start" font-weight="normal" font-style="normal" textLength="34.40" lengthAdjust="spacingAndGlyphs" >HighExpr CCNE1</text>
<text x="433.60" y="59.60" font-size="5.6" fill="#333" text-anchor="middle" font-weight="normal" font-style="normal" >9.43</text>
<text x="433.60" y="70.70" font-size="5.6" fill="#333" text-anchor="middle" font-weight="normal" font-style="normal" >6.21</text>
<text x="471.50" y="59.60" font-size="5.6" fill="#333" text-anchor="middle" font-weight="normal" font-style="normal" >1</text>
<text x="469.20" y="70.70" font-size="5.6" fill="#333" text-anchor="middle" font-weight="normal" font-style="normal" textLength="35.50" lengthAdjust="spacingAndGlyphs" >1.55 (1.15–2.08)</text>
<text x="498.50" y="59.60" font-size="5.6" fill="#333" text-anchor="start" font-weight="normal" font-style="normal" textLength="14.50" lengthAdjust="spacingAndGlyphs" >0.0006</text>
<polyline points="330.40,24.90 333.50,25.20 335.20,25.20 335.20,26.50 336.00,30.00 336.30,38.50 336.60,42.00 336.80,51.10 337.60,51.10 337.60,53.20 338.40,53.20 338.40,55.30 340.00,55.30 340.00,57.90 341.60,57.90 341.60,60.50 342.70,67.40 344.70,67.40 344.70,69.30 346.35,69.30 346.35,70.50 348.00,70.50 348.00,71.70 349.00,80.00 351.90,80.00 351.90,81.40 352.38,81.40 352.38,83.70 352.85,83.70 352.85,86.00 353.32,86.00 353.32,88.30 353.80,88.30 353.80,90.60 356.80,90.60 356.80,93.20 358.70,94.20 359.17,94.20 359.17,96.13 359.63,96.13 359.63,98.07 360.10,98.07 360.10,100.00 362.05,100.00 362.05,101.65 364.00,101.65 364.00,103.30 364.47,103.30 364.47,105.57 364.93,105.57 364.93,107.83 365.40,107.83 365.40,110.10 367.60,110.10 367.60,111.55 369.80,111.55 369.80,113.00 370.75,113.00 370.75,114.95 371.70,114.95 371.70,116.90 374.60,116.90 374.60,118.30 381.90,118.30 382.60,118.30 382.60,120.00 383.30,120.00 383.30,121.70 385.45,121.70 385.45,123.15 387.60,123.15 387.60,124.60 390.50,124.60 390.50,126.80 411.30,126.80 413.10,126.80 413.10,128.80 487.60,128.80" fill="none" stroke="#36bcd6" stroke-width="1.3" stroke-linejoin="round" />
<polyline points="330.40,24.90 333.50,25.20 335.20,25.20 335.20,26.50 336.00,30.00 336.30,38.50 337.00,40.30 338.80,40.30 338.80,42.60 340.00,44.00 340.38,44.00 340.38,46.00 340.75,46.00 340.75,48.00 341.12,48.00 341.12,50.00 341.50,50.00 341.50,52.00 341.90,60.30 344.00,60.30 344.00,60.95 346.10,60.95 346.10,61.60 347.20,66.00 348.00,71.70 351.00,71.70 351.00,73.70 352.90,73.70 352.90,75.60 354.80,75.60 354.80,77.50 357.00,77.50 357.00,78.95 359.20,78.95 359.20,80.40 362.00,80.40 362.00,83.00 363.95,83.00 363.95,84.00 365.90,84.00 365.90,85.00 367.85,85.00 367.85,85.95 369.80,85.95 369.80,86.90 371.70,86.90 371.70,89.00 374.10,89.00 374.10,90.05 376.50,90.05 376.50,91.10 378.20,91.10 378.20,92.30 379.90,92.30 379.90,93.50 381.35,93.50 381.35,96.00 382.80,96.00 382.80,98.50 384.75,98.50 384.75,99.70 386.70,99.70 386.70,100.90 389.60,100.90 389.60,103.30 392.05,103.30 392.05,104.95 394.50,104.95 394.50,106.60 399.90,106.60 400.40,106.60 400.40,108.50 400.90,108.50 400.90,110.40 401.40,110.40 401.40,112.30 403.47,112.30 403.47,114.27 405.53,114.27 405.53,116.23 407.60,116.23 407.60,118.20 417.30,118.20 418.70,118.20 418.70,120.30 436.50,120.30 437.60,125.60 446.30,125.60 446.80,127.40 455.90,127.40 456.50,129.50 478.90,129.50 479.30,132.40 487.60,132.40" fill="none" stroke="#3b2c4e" stroke-width="1.3" stroke-linejoin="round" />
<text x="353.80" y="173.40" font-size="6.0" fill="#222" text-anchor="start" font-weight="normal" font-style="normal" textLength="39.70" lengthAdjust="spacingAndGlyphs" >Number at risk</text>
<line x1="353.50" y1="178.50" x2="353.50" y2="208.00" stroke="#555" stroke-width="1.0" />
<line x1="353.00" y1="208.00" x2="496.60" y2="208.00" stroke="#555" stroke-width="1.0" />
<line x1="360.40" y1="208.00" x2="360.40" y2="210.00" stroke="#444" stroke-width="0.7" />
<text x="360.40" y="215.80" font-size="6.1" fill="#3a3a3a" text-anchor="middle" font-weight="normal" font-style="normal" >0</text>
<line x1="386.20" y1="208.00" x2="386.20" y2="210.00" stroke="#444" stroke-width="0.7" />
<text x="386.20" y="215.80" font-size="6.1" fill="#3a3a3a" text-anchor="middle" font-weight="normal" font-style="normal" >10</text>
<line x1="412.00" y1="208.00" x2="412.00" y2="210.00" stroke="#444" stroke-width="0.7" />
<text x="412.00" y="215.80" font-size="6.1" fill="#3a3a3a" text-anchor="middle" font-weight="normal" font-style="normal" >20</text>
<line x1="437.80" y1="208.00" x2="437.80" y2="210.00" stroke="#444" stroke-width="0.7" />
<text x="437.80" y="215.80" font-size="6.1" fill="#3a3a3a" text-anchor="middle" font-weight="normal" font-style="normal" >30</text>
<line x1="463.60" y1="208.00" x2="463.60" y2="210.00" stroke="#444" stroke-width="0.7" />
<text x="463.60" y="215.80" font-size="6.1" fill="#3a3a3a" text-anchor="middle" font-weight="normal" font-style="normal" >40</text>
<line x1="489.40" y1="208.00" x2="489.40" y2="210.00" stroke="#444" stroke-width="0.7" />
<text x="489.40" y="215.80" font-size="6.1" fill="#3a3a3a" text-anchor="middle" font-weight="normal" font-style="normal" >50</text>
<line x1="351.50" y1="186.20" x2="353.50" y2="186.20" stroke="#444" stroke-width="0.7" />
<line x1="351.50" y1="200.00" x2="353.50" y2="200.00" stroke="#444" stroke-width="0.7" />
<text x="351.00" y="188.00" font-size="5.6" fill="#333" text-anchor="end" font-weight="normal" font-style="normal" textLength="37.80" lengthAdjust="spacingAndGlyphs" >LowExpr CCNE1</text>
<text x="351.00" y="201.80" font-size="5.6" fill="#58c6dc" text-anchor="end" font-weight="normal" font-style="normal" textLength="39.20" lengthAdjust="spacingAndGlyphs" >HighExpr CCNE1</text>
<text x="308.20" y="193.00" font-size="5.4" fill="#222" text-anchor="middle" font-weight="bold" font-style="normal" transform="rotate(-90 308.20 193.00)" >Strata</text>
<text x="360.90" y="188.00" font-size="5.2" fill="#333" text-anchor="middle" font-weight="normal" font-style="normal" >116</text>
<text x="360.90" y="201.80" font-size="5.2" fill="#333" text-anchor="middle" font-weight="normal" font-style="normal" >113</text>
<text x="386.70" y="188.00" font-size="5.2" fill="#333" text-anchor="middle" font-weight="normal" font-style="normal" >50</text>
<text x="386.70" y="201.80" font-size="5.2" fill="#333" text-anchor="middle" font-weight="normal" font-style="normal" >32</text>
<text x="412.50" y="188.00" font-size="5.2" fill="#333" text-anchor="middle" font-weight="normal" font-style="normal" >20</text>
<text x="412.50" y="201.80" font-size="5.2" fill="#333" text-anchor="middle" font-weight="normal" font-style="normal" >8</text>
<text x="438.30" y="188.00" font-size="5.2" fill="#333" text-anchor="middle" font-weight="normal" font-style="normal" >8</text>
<text x="438.30" y="201.80" font-size="5.2" fill="#333" text-anchor="middle" font-weight="normal" font-style="normal" >4</text>
<text x="464.10" y="188.00" font-size="5.2" fill="#333" text-anchor="middle" font-weight="normal" font-style="normal" >3</text>
<text x="464.10" y="201.80" font-size="5.2" fill="#333" text-anchor="middle" font-weight="normal" font-style="normal" >1</text>
<text x="489.90" y="188.00" font-size="5.2" fill="#333" text-anchor="middle" font-weight="normal" font-style="normal" >0</text>
<text x="489.90" y="201.80" font-size="5.2" fill="#333" text-anchor="middle" font-weight="normal" font-style="normal" >0</text>
<text x="424.40" y="223.40" font-size="5.9" fill="#444" text-anchor="middle" font-weight="normal" font-style="normal" textLength="38.60" lengthAdjust="spacingAndGlyphs" >Time (months)</text>
<text x="390.00" y="243.80" font-size="6.3" fill="#222" text-anchor="start" font-weight="bold" font-style="normal" textLength="47.10" lengthAdjust="spacingAndGlyphs" >PFS-Capecitabine</text>
<text x="355.00" y="257.40" font-size="5.2" fill="#444" text-anchor="start" font-weight="normal" font-style="normal" textLength="14.00" lengthAdjust="spacingAndGlyphs" >Strata</text>
<line x1="371.20" y1="255.50" x2="377.70" y2="255.50" stroke="#3b2c4e" stroke-width="1.1" />
<text x="380.00" y="257.40" font-size="5.2" fill="#444" text-anchor="start" font-weight="normal" font-style="normal" textLength="34.60" lengthAdjust="spacingAndGlyphs" >LowExpr CCNE1</text>
<line x1="417.80" y1="255.50" x2="425.70" y2="255.50" stroke="#36bcd6" stroke-width="1.1" />
<text x="428.30" y="257.40" font-size="5.2" fill="#444" text-anchor="start" font-weight="normal" font-style="normal" textLength="35.80" lengthAdjust="spacingAndGlyphs" >HighExpr CCNE1</text>
<line x1="322.40" y1="260.10" x2="322.40" y2="383.40" stroke="#666" stroke-width="1.0" />
<line x1="321.90" y1="383.40" x2="496.60" y2="383.40" stroke="#666" stroke-width="1.0" />
<line x1="320.40" y1="378.40" x2="322.40" y2="378.40" stroke="#444" stroke-width="0.7" />
<text x="318.80" y="380.70" font-size="6.1" fill="#3a3a3a" text-anchor="end" font-weight="normal" font-style="normal" >0.0</text>
<line x1="320.40" y1="355.96" x2="322.40" y2="355.96" stroke="#444" stroke-width="0.7" />
<text x="318.80" y="358.26" font-size="6.1" fill="#3a3a3a" text-anchor="end" font-weight="normal" font-style="normal" >0.2</text>
<line x1="320.40" y1="333.52" x2="322.40" y2="333.52" stroke="#444" stroke-width="0.7" />
<text x="318.80" y="335.82" font-size="6.1" fill="#3a3a3a" text-anchor="end" font-weight="normal" font-style="normal" >0.4</text>
<line x1="320.40" y1="311.08" x2="322.40" y2="311.08" stroke="#444" stroke-width="0.7" />
<text x="318.80" y="313.38" font-size="6.1" fill="#3a3a3a" text-anchor="end" font-weight="normal" font-style="normal" >0.6</text>
<line x1="320.40" y1="288.64" x2="322.40" y2="288.64" stroke="#444" stroke-width="0.7" />
<text x="318.80" y="290.94" font-size="6.1" fill="#3a3a3a" text-anchor="end" font-weight="normal" font-style="normal" >0.8</text>
<line x1="320.40" y1="266.20" x2="322.40" y2="266.20" stroke="#444" stroke-width="0.7" />
<text x="318.80" y="268.50" font-size="6.1" fill="#3a3a3a" text-anchor="end" font-weight="normal" font-style="normal" >1.0</text>
<line x1="330.30" y1="383.40" x2="330.30" y2="385.40" stroke="#444" stroke-width="0.7" />
<text x="330.30" y="391.20" font-size="6.1" fill="#3a3a3a" text-anchor="middle" font-weight="normal" font-style="normal" >0</text>
<line x1="361.98" y1="383.40" x2="361.98" y2="385.40" stroke="#444" stroke-width="0.7" />
<text x="361.98" y="391.20" font-size="6.1" fill="#3a3a3a" text-anchor="middle" font-weight="normal" font-style="normal" >10</text>
<line x1="393.66" y1="383.40" x2="393.66" y2="385.40" stroke="#444" stroke-width="0.7" />
<text x="393.66" y="391.20" font-size="6.1" fill="#3a3a3a" text-anchor="middle" font-weight="normal" font-style="normal" >20</text>
<line x1="425.34" y1="383.40" x2="425.34" y2="385.40" stroke="#444" stroke-width="0.7" />
<text x="425.34" y="391.20" font-size="6.1" fill="#3a3a3a" text-anchor="middle" font-weight="normal" font-style="normal" >30</text>
<line x1="457.02" y1="383.40" x2="457.02" y2="385.40" stroke="#444" stroke-width="0.7" />
<text x="457.02" y="391.20" font-size="6.1" fill="#3a3a3a" text-anchor="middle" font-weight="normal" font-style="normal" >40</text>
<line x1="488.70" y1="383.40" x2="488.70" y2="385.40" stroke="#444" stroke-width="0.7" />
<text x="488.70" y="391.20" font-size="6.1" fill="#3a3a3a" text-anchor="middle" font-weight="normal" font-style="normal" >50</text>
<text x="411.20" y="398.40" font-size="5.9" fill="#444" text-anchor="middle" font-weight="normal" font-style="normal" textLength="38.20" lengthAdjust="spacingAndGlyphs" >Time (months)</text>
<text x="304.70" y="322.40" font-size="4.9" fill="#444" text-anchor="middle" font-weight="normal" font-style="normal" transform="rotate(-90 304.70 322.40)" >PFS</text>
<rect x="377.70" y="293.20" width="142.30" height="10.70" fill="#c9c9c9" stroke="none" stroke-width="1" />
<line x1="377.70" y1="282.30" x2="520.00" y2="282.30" stroke="#2a2a2a" stroke-width="1.3" />
<line x1="377.70" y1="293.20" x2="520.00" y2="293.20" stroke="#2a2a2a" stroke-width="1.3" />
<line x1="377.70" y1="315.90" x2="520.00" y2="315.90" stroke="#2a2a2a" stroke-width="1.3" />
<text x="383.00" y="290.10" font-size="5.6" fill="#111" text-anchor="start" font-weight="bold" font-style="normal" textLength="28.80" lengthAdjust="spacingAndGlyphs" >CCNE1 levels</text>
<text x="420.50" y="290.10" font-size="5.6" fill="#111" text-anchor="start" font-weight="bold" font-style="normal" textLength="26.40" lengthAdjust="spacingAndGlyphs" >Median PFS</text>
<text x="454.90" y="290.10" font-size="5.6" fill="#111" text-anchor="start" font-weight="bold" font-style="normal" textLength="26.90" lengthAdjust="spacingAndGlyphs" >HR (95% CI)</text>
<text x="507.20" y="290.10" font-size="5.6" fill="#111" text-anchor="middle" font-weight="bold" font-style="italic" >P</text>
<text x="381.00" y="300.80" font-size="5.6" fill="#333" text-anchor="start" font-weight="normal" font-style="italic" textLength="34.40" lengthAdjust="spacingAndGlyphs" >LowExpr CCNE1</text>
<text x="381.00" y="311.90" font-size="5.6" fill="#333" text-anchor="start" font-weight="normal" font-style="italic" textLength="34.40" lengthAdjust="spacingAndGlyphs" >HighExpr CCNE1</text>
<text x="433.60" y="300.80" font-size="5.6" fill="#333" text-anchor="middle" font-weight="normal" font-style="normal" >10.84</text>
<text x="433.60" y="311.90" font-size="5.6" fill="#333" text-anchor="middle" font-weight="normal" font-style="normal" >9.26</text>
<text x="471.50" y="300.80" font-size="5.6" fill="#333" text-anchor="middle" font-weight="normal" font-style="normal" >1</text>
<text x="469.20" y="311.90" font-size="5.6" fill="#333" text-anchor="middle" font-weight="normal" font-style="normal" textLength="35.50" lengthAdjust="spacingAndGlyphs" >1.01 (0.74–1.38)</text>
<text x="498.90" y="300.80" font-size="5.6" fill="#333" text-anchor="start" font-weight="normal" font-style="normal" textLength="12.60" lengthAdjust="spacingAndGlyphs" >0.957</text>
<polyline points="330.40,266.30 333.00,267.10 335.00,267.10 335.00,269.20 335.90,280.50 336.80,280.50 336.80,282.90 337.70,282.90 337.70,285.30 340.40,285.30 340.40,288.50 341.20,288.50 341.20,291.20 342.00,291.20 342.00,293.90 345.20,293.90 345.20,296.10 345.93,296.10 345.93,298.23 346.67,298.23 346.67,300.37 347.40,300.37 347.40,302.50 348.75,302.50 348.75,304.35 350.10,304.35 350.10,306.20 350.97,306.20 350.97,308.47 351.83,308.47 351.83,310.73 352.70,310.73 352.70,313.00 354.60,313.00 354.60,316.20 357.80,316.80 358.55,316.80 358.55,318.75 359.30,318.75 359.30,320.70 359.90,320.70 359.90,322.83 360.50,322.83 360.50,324.97 361.10,324.97 361.10,327.10 364.30,327.10 364.30,330.40 366.55,330.40 366.55,331.35 368.80,331.35 368.80,332.30 370.10,332.30 370.10,334.20 371.40,334.20 371.40,336.10 373.30,336.10 373.30,337.40 375.25,337.40 375.25,338.40 377.20,338.40 377.20,339.40 378.50,339.40 378.50,342.60 381.70,342.90 382.13,342.90 382.13,345.37 382.57,345.37 382.57,347.83 383.00,347.83 383.00,350.30 386.00,350.30 386.00,351.60 388.10,351.60 388.10,353.70 394.10,353.70 395.10,355.70 400.20,355.70 401.30,359.00 404.20,359.00 404.20,361.10 406.20,361.10 406.20,364.40 408.25,364.40 408.25,366.75 410.30,366.75 410.30,369.10 431.10,369.10 431.80,370.80 444.50,370.80 445.20,375.00 475.80,375.00 476.00,376.70" fill="none" stroke="#36bcd6" stroke-width="1.3" stroke-linejoin="round" />
<polyline points="330.40,266.30 333.00,267.10 335.50,267.10 335.50,269.20 336.60,280.50 337.50,280.50 337.50,282.90 338.40,282.90 338.40,285.30 341.10,285.30 341.10,288.50 341.90,288.50 341.90,291.20 342.70,291.20 342.70,293.90 345.90,293.90 345.90,296.10 346.63,296.10 346.63,298.23 347.37,298.23 347.37,300.37 348.10,300.37 348.10,302.50 349.45,302.50 349.45,304.35 350.80,304.35 350.80,306.20 351.67,306.20 351.67,308.47 352.53,308.47 352.53,310.73 353.40,310.73 353.40,313.00 355.30,313.00 355.30,316.20 358.50,316.80 359.15,316.80 359.15,318.75 359.80,318.75 359.80,320.70 362.05,320.70 362.05,321.65 364.30,321.65 364.30,322.60 366.43,322.60 366.43,324.33 368.57,324.33 368.57,326.07 370.70,326.07 370.70,327.80 371.13,327.80 371.13,329.93 371.57,329.93 371.57,332.07 372.00,332.07 372.00,334.20 373.30,334.20 373.30,337.40 375.25,337.40 375.25,338.40 377.20,338.40 377.20,339.40 378.50,339.40 378.50,342.60 381.70,342.90 382.13,342.90 382.13,345.37 382.57,345.37 382.57,347.83 383.00,347.83 383.00,350.30 386.00,350.30 386.00,353.20 387.35,353.20 387.35,355.45 388.70,355.45 388.70,357.70 400.20,357.70 401.00,359.00 404.90,359.00 406.20,359.00 406.20,361.70 411.00,362.70 429.80,362.70 430.90,364.80 437.90,364.80 438.60,370.10 452.20,370.10 452.90,373.40 463.60,373.40 464.00,375.10 485.90,375.10 486.00,377.70" fill="none" stroke="#3b2c4e" stroke-width="1.3" stroke-linejoin="round" />
<text x="353.80" y="414.00" font-size="6.0" fill="#222" text-anchor="start" font-weight="normal" font-style="normal" textLength="39.70" lengthAdjust="spacingAndGlyphs" >Number at risk</text>
<line x1="353.50" y1="420.40" x2="353.50" y2="449.90" stroke="#555" stroke-width="1.0" />
<line x1="353.00" y1="449.90" x2="496.60" y2="449.90" stroke="#555" stroke-width="1.0" />
<line x1="360.40" y1="449.90" x2="360.40" y2="451.90" stroke="#444" stroke-width="0.7" />
<text x="360.40" y="456.40" font-size="6.1" fill="#3a3a3a" text-anchor="middle" font-weight="normal" font-style="normal" >0</text>
<line x1="386.20" y1="449.90" x2="386.20" y2="451.90" stroke="#444" stroke-width="0.7" />
<text x="386.20" y="456.40" font-size="6.1" fill="#3a3a3a" text-anchor="middle" font-weight="normal" font-style="normal" >10</text>
<line x1="412.00" y1="449.90" x2="412.00" y2="451.90" stroke="#444" stroke-width="0.7" />
<text x="412.00" y="456.40" font-size="6.1" fill="#3a3a3a" text-anchor="middle" font-weight="normal" font-style="normal" >20</text>
<line x1="437.80" y1="449.90" x2="437.80" y2="451.90" stroke="#444" stroke-width="0.7" />
<text x="437.80" y="456.40" font-size="6.1" fill="#3a3a3a" text-anchor="middle" font-weight="normal" font-style="normal" >30</text>
<line x1="463.60" y1="449.90" x2="463.60" y2="451.90" stroke="#444" stroke-width="0.7" />
<text x="463.60" y="456.40" font-size="6.1" fill="#3a3a3a" text-anchor="middle" font-weight="normal" font-style="normal" >40</text>
<line x1="489.40" y1="449.90" x2="489.40" y2="451.90" stroke="#444" stroke-width="0.7" />
<text x="489.40" y="456.40" font-size="6.1" fill="#3a3a3a" text-anchor="middle" font-weight="normal" font-style="normal" >50</text>
<line x1="351.50" y1="428.10" x2="353.50" y2="428.10" stroke="#444" stroke-width="0.7" />
<line x1="351.50" y1="441.90" x2="353.50" y2="441.90" stroke="#444" stroke-width="0.7" />
<text x="351.00" y="429.90" font-size="5.6" fill="#333" text-anchor="end" font-weight="normal" font-style="normal" textLength="37.80" lengthAdjust="spacingAndGlyphs" >LowExpr CCNE1</text>
<text x="351.00" y="443.70" font-size="5.6" fill="#58c6dc" text-anchor="end" font-weight="normal" font-style="normal" textLength="39.20" lengthAdjust="spacingAndGlyphs" >HighExpr CCNE1</text>
<text x="308.20" y="434.90" font-size="5.4" fill="#222" text-anchor="middle" font-weight="bold" font-style="normal" transform="rotate(-90 308.20 434.90)" >Strata</text>
<text x="360.90" y="429.90" font-size="5.2" fill="#333" text-anchor="middle" font-weight="normal" font-style="normal" >112</text>
<text x="360.90" y="443.70" font-size="5.2" fill="#333" text-anchor="middle" font-weight="normal" font-style="normal" >114</text>
<text x="386.70" y="429.90" font-size="5.2" fill="#333" text-anchor="middle" font-weight="normal" font-style="normal" >46</text>
<text x="386.70" y="443.70" font-size="5.2" fill="#333" text-anchor="middle" font-weight="normal" font-style="normal" >36</text>
<text x="412.50" y="429.90" font-size="5.2" fill="#333" text-anchor="middle" font-weight="normal" font-style="normal" >14</text>
<text x="412.50" y="443.70" font-size="5.2" fill="#333" text-anchor="middle" font-weight="normal" font-style="normal" >12</text>
<text x="438.30" y="429.90" font-size="5.2" fill="#333" text-anchor="middle" font-weight="normal" font-style="normal" >7</text>
<text x="438.30" y="443.70" font-size="5.2" fill="#333" text-anchor="middle" font-weight="normal" font-style="normal" >4</text>
<text x="464.10" y="429.90" font-size="5.2" fill="#333" text-anchor="middle" font-weight="normal" font-style="normal" >2</text>
<text x="464.10" y="443.70" font-size="5.2" fill="#333" text-anchor="middle" font-weight="normal" font-style="normal" >1</text>
<text x="489.90" y="429.90" font-size="5.2" fill="#333" text-anchor="middle" font-weight="normal" font-style="normal" >0</text>
<text x="489.90" y="443.70" font-size="5.2" fill="#333" text-anchor="middle" font-weight="normal" font-style="normal" >0</text>
<text x="424.40" y="464.00" font-size="5.9" fill="#444" text-anchor="middle" font-weight="normal" font-style="normal" textLength="38.60" lengthAdjust="spacingAndGlyphs" >Time (months)</text>
</svg>
</body></html>
